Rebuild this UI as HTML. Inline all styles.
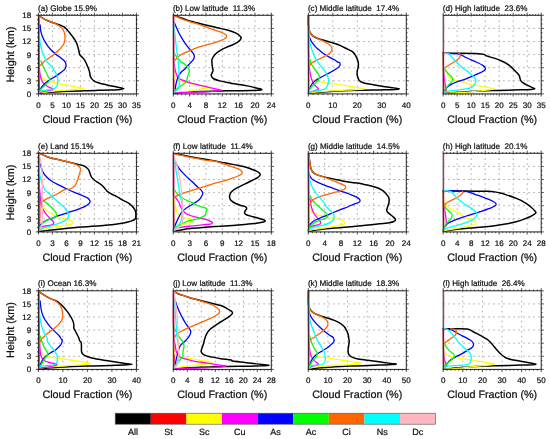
<!DOCTYPE html><html><head><meta charset="utf-8"><style>html,body{margin:0;padding:0;background:#fff;}svg{display:block;}text{text-rendering:geometricPrecision;font-family:"Liberation Sans",Arial,Helvetica,sans-serif;fill:#111;stroke:#111;stroke-width:0.22px;}</style></head><body>
<svg width="550" height="439" viewBox="0 0 550 439">
<rect width="550" height="439" fill="#fff"/>
<path d="M52.4 15.3V93.9M66.4 15.3V93.9M80.4 15.3V93.9M94.4 15.3V93.9M108.4 15.3V93.9M122.4 15.3V93.9M38.4 80.8H136.4M38.4 67.7H136.4M38.4 54.6H136.4M38.4 41.5H136.4M38.4 28.4H136.4" stroke="#8a8a8a" stroke-width="0.7" stroke-dasharray="1.6 3.4" fill="none"/>
<path d="M38.61 15.37C39.36 15.86 41.57 17.44 43.1 18.33C44.64 19.22 46.07 19.91 47.84 20.7C49.62 21.49 51.79 22.38 53.76 23.07C55.74 23.76 57.91 24.15 59.68 24.85C61.46 25.54 63.04 26.23 64.42 27.21C65.8 28.2 66.98 29.68 67.97 30.77C68.96 31.85 69.55 32.74 70.34 33.73C71.13 34.72 71.92 35.61 72.71 36.69C73.5 37.78 74.39 39.06 75.08 40.24C75.77 41.43 76.36 42.61 76.85 43.8C77.35 44.98 77.7 46.17 78.04 47.35C78.37 48.54 78.61 49.82 78.87 50.91C79.12 51.99 79.39 53.17 79.58 53.87C79.77 54.56 79.53 54.47 80 55.07C80.47 55.66 81.58 56.55 82.37 57.44C83.16 58.33 84.05 59.31 84.74 60.4C85.43 61.49 85.92 62.67 86.51 63.95C87.1 65.24 87.8 66.82 88.29 68.1C88.78 69.38 89.18 70.47 89.47 71.65C89.77 72.84 89.77 74.12 90.07 75.21C90.36 76.29 90.56 77.18 91.25 78.17C91.94 79.15 92.93 80.34 94.21 81.13C95.49 81.92 96.97 82.31 98.95 82.91C100.92 83.5 103.68 84.13 106.05 84.68C108.42 85.24 110.79 85.73 113.16 86.22C115.52 86.72 118.48 87.25 120.26 87.64C122.04 88.04 123.81 88.3 123.81 88.59C123.81 88.89 122.63 89.18 120.26 89.42C117.89 89.66 113.35 89.86 109.6 90.01C105.85 90.17 101.51 90.25 97.76 90.37C94.01 90.49 90.07 90.63 87.1 90.72C84.14 90.82 82.85 90.86 80 90.96C77.15 91.06 74.17 91.14 70 91.3C65.83 91.46 59.17 91.7 55 91.9C50.83 92.1 47.7 92.27 45 92.5C42.3 92.73 39.83 93.17 38.8 93.3" stroke="#000000" stroke-width="1.5" fill="none" stroke-linejoin="round" stroke-linecap="round"/>
<path d="M38.6 15.5C38.62 21.25 38.65 40.58 38.7 50C38.75 59.42 38.8 66.17 38.9 72C39 77.83 39.2 81.83 39.3 85C39.4 88.17 39.58 89.62 39.5 91C39.42 92.38 38.92 92.92 38.8 93.3" stroke="#ff0000" stroke-width="1.3" fill="none" stroke-linejoin="round" stroke-linecap="round"/>
<path d="M42 77.82C42.82 78.27 44.27 79.64 46.91 80.54C49.54 81.45 54.18 82.45 57.82 83.27C61.45 84.09 65.09 84.73 68.73 85.45C72.36 86.18 77.09 87.14 79.63 87.63C82.18 88.13 84.91 88.09 84 88.4C83.09 88.71 77.63 89.16 74.18 89.49C70.73 89.82 66.91 90.07 63.27 90.36C59.64 90.65 55.82 90.91 52.36 91.23C48.91 91.56 44.82 91.96 42.55 92.33C40.27 92.69 39.36 93.23 38.73 93.42" stroke="#ffff00" stroke-width="1.3" fill="none" stroke-linejoin="round" stroke-linecap="round"/>
<path d="M38.9 15.5C38.93 21.25 39.03 41.75 39.1 50C39.17 58.25 39.2 61.33 39.3 65C39.4 68.67 39.48 70 39.7 72C39.92 74 40.22 75.5 40.6 77C40.98 78.5 41.49 79.95 42 81C42.51 82.05 42.82 82.44 43.64 83.27C44.45 84.1 45.64 85.18 46.91 86C48.18 86.82 50.18 87.63 51.27 88.18C52.36 88.73 53.64 88.91 53.45 89.27C53.27 89.63 51.82 90 50.18 90.36C48.54 90.73 45.45 91.05 43.64 91.45C41.82 91.85 40 92.54 39.27 92.76" stroke="#ff00ff" stroke-width="1.3" fill="none" stroke-linejoin="round" stroke-linecap="round"/>
<path d="M40.14 24.85C40.24 25.83 40.34 28.79 40.74 30.77C41.13 32.74 41.82 34.91 42.51 36.69C43.2 38.47 43.99 39.85 44.88 41.43C45.77 43.01 46.76 44.69 47.84 46.17C48.93 47.65 50.01 48.93 51.39 50.31C52.78 51.7 54.55 53.18 56.13 54.46C57.71 55.74 59.49 56.93 60.87 58.01C62.25 59.1 63.6 60.06 64.42 60.97C65.24 61.89 65.54 62.69 65.8 63.5C66.06 64.31 66.15 64.89 66 65.82C65.85 66.75 65.73 68 64.91 69.09C64.09 70.18 62.45 71.27 61.09 72.36C59.73 73.45 58.36 74.54 56.73 75.64C55.09 76.73 53 77.82 51.27 78.91C49.54 80 47.82 81 46.36 82.18C44.91 83.36 43.55 84.82 42.55 86C41.55 87.18 40.91 88.27 40.36 89.27C39.82 90.27 39.45 91.54 39.27 92" stroke="#0000ff" stroke-width="1.3" fill="none" stroke-linejoin="round" stroke-linecap="round"/>
<path d="M40.91 60.91C41.18 61.64 41.82 63.64 42.55 65.27C43.27 66.91 44.36 68.91 45.27 70.73C46.18 72.54 47.22 74.69 48 76.18C48.78 77.67 49.87 78.73 49.96 79.67C50.05 80.62 49.33 80.98 48.54 81.85C47.76 82.73 46.27 83.94 45.27 84.91C44.27 85.87 43.36 86.82 42.55 87.63C41.73 88.45 40.91 89.09 40.36 89.82C39.82 90.54 39.45 91.63 39.27 92" stroke="#00ff00" stroke-width="1.3" fill="none" stroke-linejoin="round" stroke-linecap="round"/>
<path d="M38.61 15.37C39.36 15.86 41.57 17.44 43.1 18.33C44.64 19.22 46.07 19.91 47.84 20.7C49.62 21.49 51.99 22.28 53.76 23.07C55.54 23.86 57.12 24.55 58.5 25.44C59.88 26.33 61.1 27.31 62.05 28.4C63 29.49 63.69 30.57 64.18 31.95C64.68 33.33 64.93 35.11 65.01 36.69C65.09 38.27 64.95 40.05 64.66 41.43C64.36 42.81 63.87 43.9 63.24 44.98C62.6 46.07 61.85 46.86 60.87 47.94C59.88 49.03 58.5 50.41 57.31 51.5C56.13 52.58 55.14 53.37 53.76 54.46C52.38 55.55 50.6 56.83 49.03 58.01C47.45 59.2 45.57 60.48 44.29 61.57C43.01 62.65 42.01 63.87 41.33 64.53C40.65 65.18 40.39 65.34 40.2 65.5" stroke="#ff6600" stroke-width="1.3" fill="none" stroke-linejoin="round" stroke-linecap="round"/>
<path d="M38.7 28C38.8 29.05 39.07 31.89 39.32 34.32C39.56 36.76 39.81 40.24 40.14 42.61C40.48 44.98 40.84 46.56 41.33 48.54C41.82 50.51 42.41 52.68 43.1 54.46C43.8 56.24 44.68 57.82 45.47 59.2C46.26 60.58 46.87 61.56 47.84 62.75C48.81 63.95 50.06 64.85 51.27 66.36C52.48 67.87 54.09 70.18 55.09 71.82C56.09 73.45 56.82 74.73 57.27 76.18C57.73 77.64 57.82 79.09 57.82 80.54C57.82 82 57.73 83.64 57.27 84.91C56.82 86.18 56.09 87.42 55.09 88.18C54.09 88.94 53 89.13 51.27 89.49C49.54 89.85 46.55 90.03 44.73 90.36C42.91 90.69 41.36 91 40.36 91.45C39.36 91.91 39 92.82 38.73 93.09" stroke="#00ffff" stroke-width="1.3" fill="none" stroke-linejoin="round" stroke-linecap="round"/>
<path d="M38.4 15.3V93.9" stroke="#ff0000" stroke-width="0.8" opacity="0.0"/>
<path d="M39.4 15.3V93.9" stroke="#c040c0" stroke-width="0.9" opacity="0.6"/>
<path d="M38.4 93.9v2.6M38.4 15.3v-2.6M41.2 93.9v1.3M41.2 15.3v-1.3M44 93.9v1.3M44 15.3v-1.3M46.8 93.9v1.3M46.8 15.3v-1.3M49.6 93.9v1.3M49.6 15.3v-1.3M52.4 93.9v2.6M52.4 15.3v-2.6M55.2 93.9v1.3M55.2 15.3v-1.3M58 93.9v1.3M58 15.3v-1.3M60.8 93.9v1.3M60.8 15.3v-1.3M63.6 93.9v1.3M63.6 15.3v-1.3M66.4 93.9v2.6M66.4 15.3v-2.6M69.2 93.9v1.3M69.2 15.3v-1.3M72 93.9v1.3M72 15.3v-1.3M74.8 93.9v1.3M74.8 15.3v-1.3M77.6 93.9v1.3M77.6 15.3v-1.3M80.4 93.9v2.6M80.4 15.3v-2.6M83.2 93.9v1.3M83.2 15.3v-1.3M86 93.9v1.3M86 15.3v-1.3M88.8 93.9v1.3M88.8 15.3v-1.3M91.6 93.9v1.3M91.6 15.3v-1.3M94.4 93.9v2.6M94.4 15.3v-2.6M97.2 93.9v1.3M97.2 15.3v-1.3M100 93.9v1.3M100 15.3v-1.3M102.8 93.9v1.3M102.8 15.3v-1.3M105.6 93.9v1.3M105.6 15.3v-1.3M108.4 93.9v2.6M108.4 15.3v-2.6M111.2 93.9v1.3M111.2 15.3v-1.3M114 93.9v1.3M114 15.3v-1.3M116.8 93.9v1.3M116.8 15.3v-1.3M119.6 93.9v1.3M119.6 15.3v-1.3M122.4 93.9v2.6M122.4 15.3v-2.6M125.2 93.9v1.3M125.2 15.3v-1.3M128 93.9v1.3M128 15.3v-1.3M130.8 93.9v1.3M130.8 15.3v-1.3M133.6 93.9v1.3M133.6 15.3v-1.3M136.4 93.9v2.6M136.4 15.3v-2.6M38.4 93.9h-2.6M136.4 93.9h2.6M38.4 89.53h-1.3M136.4 89.53h1.3M38.4 85.17h-1.3M136.4 85.17h1.3M38.4 80.8h-2.6M136.4 80.8h2.6M38.4 76.43h-1.3M136.4 76.43h1.3M38.4 72.07h-1.3M136.4 72.07h1.3M38.4 67.7h-2.6M136.4 67.7h2.6M38.4 63.33h-1.3M136.4 63.33h1.3M38.4 58.97h-1.3M136.4 58.97h1.3M38.4 54.6h-2.6M136.4 54.6h2.6M38.4 50.23h-1.3M136.4 50.23h1.3M38.4 45.87h-1.3M136.4 45.87h1.3M38.4 41.5h-2.6M136.4 41.5h2.6M38.4 37.13h-1.3M136.4 37.13h1.3M38.4 32.77h-1.3M136.4 32.77h1.3M38.4 28.4h-2.6M136.4 28.4h2.6M38.4 24.03h-1.3M136.4 24.03h1.3M38.4 19.67h-1.3M136.4 19.67h1.3M38.4 15.3h-2.6M136.4 15.3h2.6" stroke="#222" stroke-width="0.8" fill="none"/>
<rect x="38.4" y="15.3" width="98" height="78.6" fill="none" stroke="#222" stroke-width="1"/>
<text x="38.4" y="107.7" font-size="8" text-anchor="middle">0</text>
<text x="52.4" y="107.7" font-size="8" text-anchor="middle">5</text>
<text x="66.4" y="107.7" font-size="8" text-anchor="middle">10</text>
<text x="80.4" y="107.7" font-size="8" text-anchor="middle">15</text>
<text x="94.4" y="107.7" font-size="8" text-anchor="middle">20</text>
<text x="108.4" y="107.7" font-size="8" text-anchor="middle">25</text>
<text x="122.4" y="107.7" font-size="8" text-anchor="middle">30</text>
<text x="136.4" y="107.7" font-size="8" text-anchor="middle">35</text>
<text x="31.1" y="96.8" font-size="8" text-anchor="end">0</text>
<text x="31.1" y="83.7" font-size="8" text-anchor="end">3</text>
<text x="31.1" y="70.6" font-size="8" text-anchor="end">6</text>
<text x="31.1" y="57.5" font-size="8" text-anchor="end">9</text>
<text x="31.1" y="44.4" font-size="8" text-anchor="end">12</text>
<text x="31.1" y="31.3" font-size="8" text-anchor="end">15</text>
<text x="31.1" y="18.2" font-size="8" text-anchor="end">18</text>
<text x="38" y="10.8" font-size="8.1" xml:space="preserve">(a) Globe 15.9%</text>
<text x="87.4" y="122.5" font-size="10.8" text-anchor="middle">Cloud Fraction (%)</text>
<text transform="translate(13.7 54.6) rotate(-90)" x="0" y="0" font-size="10.8" text-anchor="middle">Height (km)</text>
<path d="M189.63 15.3V93.9M205.97 15.3V93.9M222.3 15.3V93.9M238.63 15.3V93.9M254.97 15.3V93.9M173.3 80.8H271.3M173.3 67.7H271.3M173.3 54.6H271.3M173.3 41.5H271.3M173.3 28.4H271.3" stroke="#8a8a8a" stroke-width="0.7" stroke-dasharray="1.6 3.4" fill="none"/>
<path d="M173.7 15.3C175.98 16.1 182.77 18.67 187.4 20.1C192.03 21.53 197.32 22.82 201.5 23.9C205.68 24.98 209.5 25.88 212.5 26.6C215.5 27.32 217.2 27.67 219.5 28.2C221.8 28.73 223.98 29.17 226.3 29.8C228.62 30.43 231.44 31.2 233.42 31.95C235.4 32.71 236.97 33.53 238.16 34.32C239.34 35.11 240.03 36.1 240.52 36.69C241.02 37.28 241.21 37.28 241.12 37.88C241.02 38.47 240.62 39.46 239.93 40.24C239.24 41.03 238.25 41.82 236.97 42.61C235.69 43.4 234.01 44.19 232.24 44.98C230.46 45.77 228.29 46.46 226.31 47.35C224.34 48.24 222.07 49.33 220.39 50.31C218.72 51.3 217.43 52.19 216.25 53.27C215.07 54.36 214.02 55.64 213.29 56.83C212.56 58.02 211.99 58.62 211.85 60.4C211.71 62.18 212.25 65.83 212.44 67.51C212.64 69.18 213.14 69.48 213.04 70.47C212.94 71.46 212.15 72.54 211.85 73.43C211.56 74.32 210.96 74.91 211.26 75.8C211.56 76.69 212.05 77.87 213.63 78.76C215.21 79.65 217.97 80.44 220.73 81.13C223.5 81.82 228.6 82.57 230.21 82.91C231.82 83.24 228.98 82.89 230.39 83.14C231.81 83.4 235.92 83.99 238.68 84.45C241.45 84.9 244.41 85.37 246.97 85.87C249.54 86.36 251.91 86.91 254.08 87.41C256.25 87.9 258.71 88.43 260 88.83C261.28 89.22 261.97 89.54 261.77 89.78C261.58 90.01 260.69 90.13 258.81 90.25C256.94 90.37 253.88 90.41 250.52 90.49C247.17 90.57 242.63 90.66 238.68 90.72C234.74 90.78 229.8 90.8 226.84 90.84C223.88 90.88 224.56 90.87 220.92 90.96C217.28 91.05 210.15 91.23 205 91.4C199.85 91.57 194.17 91.8 190 92C185.83 92.2 182.7 92.37 180 92.6C177.3 92.83 174.83 93.27 173.8 93.4" stroke="#000000" stroke-width="1.5" fill="none" stroke-linejoin="round" stroke-linecap="round"/>
<path d="M173.5 15.5C173.52 22.92 173.53 47.58 173.6 60C173.67 72.42 173.9 84.45 173.9 90C173.9 95.55 173.65 92.75 173.6 93.3" stroke="#ff0000" stroke-width="1.3" fill="none" stroke-linejoin="round" stroke-linecap="round"/>
<path d="M173.25 59.21C173.37 61.98 173.55 72.44 173.96 75.8C174.37 79.15 174.45 78.36 175.74 79.35C177.02 80.34 179.29 81.03 181.66 81.72C184.03 82.41 186.79 82.81 189.95 83.5C193.1 84.19 197.25 85.22 200.6 85.87C203.96 86.52 210.08 86.87 210.08 87.41C210.08 87.94 203.56 88.53 200.6 89.07C197.64 89.6 195.27 90.15 192.31 90.61C189.35 91.06 185.8 91.45 182.84 91.79C179.88 92.13 175.93 92.48 174.55 92.62" stroke="#ffff00" stroke-width="1.3" fill="none" stroke-linejoin="round" stroke-linecap="round"/>
<path d="M173.6 15.5C173.62 19.58 173.68 34.25 173.7 40C173.72 45.75 173.65 46.2 173.7 50C173.75 53.8 173.67 59.1 174 62.8C174.33 66.5 175.02 69.73 175.7 72.2C176.38 74.67 177.1 76.32 178.1 77.6C179.1 78.88 179.92 79.12 181.7 79.9C183.48 80.68 185.65 81.4 188.8 82.3C191.95 83.2 196.67 84.32 200.6 85.3C204.53 86.28 209.15 87.45 212.4 88.2C215.65 88.95 218.72 89.4 220.1 89.8C221.48 90.2 222.97 90.27 220.7 90.6C218.43 90.93 210.83 91.55 206.5 91.8C202.17 92.05 198.65 91.97 194.7 92.1C190.75 92.23 186.15 92.45 182.8 92.6C179.45 92.75 175.97 92.93 174.6 93" stroke="#ff00ff" stroke-width="1.3" fill="none" stroke-linejoin="round" stroke-linecap="round"/>
<path d="M174.55 23.07C174.85 23.76 175.64 25.64 176.33 27.21C177.02 28.79 177.81 30.77 178.7 32.55C179.58 34.32 180.67 36.2 181.66 37.88C182.64 39.55 183.53 41.03 184.62 42.61C185.7 44.19 186.99 45.87 188.17 47.35C189.35 48.83 190.74 50.21 191.72 51.5C192.71 52.78 193.7 53.97 194.09 55.05C194.49 56.14 194.39 57.03 194.09 58.01C193.79 59 193.01 60.09 192.31 60.97C191.62 61.86 191.13 62.06 189.95 63.34C188.76 64.63 186.69 67.21 185.21 68.69C183.73 70.17 182.15 71.06 181.07 72.24C179.98 73.43 179.39 74.42 178.7 75.8C178.01 77.18 177.41 78.96 176.92 80.54C176.43 82.12 176.03 83.7 175.74 85.27C175.44 86.85 175.44 88.73 175.14 90.01C174.85 91.3 174.16 92.48 173.96 92.97" stroke="#0000ff" stroke-width="1.3" fill="none" stroke-linejoin="round" stroke-linecap="round"/>
<path d="M173.96 52.09C174.26 52.68 174.95 54.46 175.74 55.64C176.53 56.83 177.71 58.01 178.7 59.2C179.68 60.38 180.97 62.16 181.66 62.75C182.35 63.35 181.85 62.07 182.84 62.77C183.83 63.46 186.49 65.63 187.58 66.91C188.66 68.2 189.16 69.38 189.35 70.47C189.55 71.55 189.06 72.44 188.76 73.43C188.47 74.42 187.87 75.4 187.58 76.39C187.28 77.38 187.38 78.27 186.99 79.35C186.59 80.44 186.1 81.92 185.21 82.91C184.32 83.89 182.84 84.49 181.66 85.27C180.47 86.06 179.19 86.76 178.1 87.64C177.02 88.53 175.89 89.82 175.14 90.61C174.39 91.4 173.86 92.09 173.61 92.38" stroke="#00ff00" stroke-width="1.3" fill="none" stroke-linejoin="round" stroke-linecap="round"/>
<path d="M173.61 15.37C174.75 15.86 177.95 17.34 180.47 18.33C183 19.32 185.8 20.3 188.76 21.29C191.72 22.28 195.27 23.27 198.24 24.25C201.2 25.24 203.76 26.23 206.52 27.21C209.29 28.2 212.25 29.29 214.81 30.18C217.38 31.06 220.04 31.76 221.92 32.55C223.79 33.33 225.27 34.22 226.06 34.91C226.85 35.61 226.95 36 226.65 36.69C226.36 37.38 225.67 38.27 224.29 39.06C222.9 39.85 220.73 40.64 218.37 41.43C216 42.22 212.84 43.01 210.08 43.8C207.31 44.59 204.55 45.28 201.79 46.17C199.02 47.06 196.06 48.14 193.5 49.13C190.93 50.12 188.56 51.1 186.39 52.09C184.22 53.08 182.05 54.06 180.47 55.05C178.89 56.04 177.81 57.12 176.92 58.01C176.03 58.9 175.44 59.99 175.14 60.38" stroke="#ff6600" stroke-width="1.3" fill="none" stroke-linejoin="round" stroke-linecap="round"/>
<path d="M173.96 23.66C174.06 24.85 174.3 28.2 174.55 30.77C174.81 33.33 175.2 36.3 175.5 39.06C175.8 41.82 175.99 44.59 176.33 47.35C176.66 50.12 177.18 53.08 177.51 55.64C177.85 58.21 178.09 59.59 178.34 62.75C178.6 65.91 178.89 71.06 179.05 74.61C179.21 78.17 179.45 81.72 179.29 84.09C179.13 86.46 178.89 87.6 178.1 88.83C177.32 90.05 175.34 90.74 174.55 91.43C173.76 92.13 173.57 92.72 173.37 92.97" stroke="#00ffff" stroke-width="1.3" fill="none" stroke-linejoin="round" stroke-linecap="round"/>
<path d="M173.3 15.3V93.9" stroke="#ff0000" stroke-width="0.8" opacity="0.0"/>
<path d="M174.3 15.3V93.9" stroke="#e090a0" stroke-width="0.9" opacity="0.6"/>
<path d="M173.3 93.9v2.6M173.3 15.3v-2.6M177.38 93.9v1.3M177.38 15.3v-1.3M181.47 93.9v1.3M181.47 15.3v-1.3M185.55 93.9v1.3M185.55 15.3v-1.3M189.63 93.9v2.6M189.63 15.3v-2.6M193.72 93.9v1.3M193.72 15.3v-1.3M197.8 93.9v1.3M197.8 15.3v-1.3M201.88 93.9v1.3M201.88 15.3v-1.3M205.97 93.9v2.6M205.97 15.3v-2.6M210.05 93.9v1.3M210.05 15.3v-1.3M214.13 93.9v1.3M214.13 15.3v-1.3M218.22 93.9v1.3M218.22 15.3v-1.3M222.3 93.9v2.6M222.3 15.3v-2.6M226.38 93.9v1.3M226.38 15.3v-1.3M230.47 93.9v1.3M230.47 15.3v-1.3M234.55 93.9v1.3M234.55 15.3v-1.3M238.63 93.9v2.6M238.63 15.3v-2.6M242.72 93.9v1.3M242.72 15.3v-1.3M246.8 93.9v1.3M246.8 15.3v-1.3M250.88 93.9v1.3M250.88 15.3v-1.3M254.97 93.9v2.6M254.97 15.3v-2.6M259.05 93.9v1.3M259.05 15.3v-1.3M263.13 93.9v1.3M263.13 15.3v-1.3M267.22 93.9v1.3M267.22 15.3v-1.3M271.3 93.9v2.6M271.3 15.3v-2.6M271.3 93.9h2.6M271.3 89.53h1.3M271.3 85.17h1.3M271.3 80.8h2.6M271.3 76.43h1.3M271.3 72.07h1.3M271.3 67.7h2.6M271.3 63.33h1.3M271.3 58.97h1.3M271.3 54.6h2.6M271.3 50.23h1.3M271.3 45.87h1.3M271.3 41.5h2.6M271.3 37.13h1.3M271.3 32.77h1.3M271.3 28.4h2.6M271.3 24.03h1.3M271.3 19.67h1.3M271.3 15.3h2.6" stroke="#222" stroke-width="0.8" fill="none"/>
<rect x="173.3" y="15.3" width="98" height="78.6" fill="none" stroke="#222" stroke-width="1"/>
<text x="173.3" y="107.7" font-size="8" text-anchor="middle">0</text>
<text x="189.63" y="107.7" font-size="8" text-anchor="middle">4</text>
<text x="205.97" y="107.7" font-size="8" text-anchor="middle">8</text>
<text x="222.3" y="107.7" font-size="8" text-anchor="middle">12</text>
<text x="238.63" y="107.7" font-size="8" text-anchor="middle">16</text>
<text x="254.97" y="107.7" font-size="8" text-anchor="middle">20</text>
<text x="271.3" y="107.7" font-size="8" text-anchor="middle">24</text>
<text x="172.9" y="10.8" font-size="8.1" xml:space="preserve">(b) Low latitude  11.3%</text>
<text x="222.3" y="122.5" font-size="10.8" text-anchor="middle">Cloud Fraction (%)</text>
<path d="M332.8 15.3V93.9M357.3 15.3V93.9M381.8 15.3V93.9M308.3 80.8H406.3M308.3 67.7H406.3M308.3 54.6H406.3M308.3 41.5H406.3M308.3 28.4H406.3" stroke="#8a8a8a" stroke-width="0.7" stroke-dasharray="1.6 3.4" fill="none"/>
<path d="M308.5 15.5C308.48 16.66 308.29 20.33 308.37 22.48C308.44 24.63 308.66 26.72 308.96 28.4C309.26 30.08 309.45 31.26 310.14 32.55C310.84 33.83 311.82 35.11 313.1 36.1C314.39 37.09 316.07 37.78 317.84 38.47C319.62 39.16 321.79 39.65 323.76 40.24C325.74 40.84 327.71 41.43 329.68 42.02C331.66 42.61 333.63 43.11 335.6 43.8C337.58 44.49 339.75 45.38 341.52 46.17C343.3 46.96 344.85 47.84 346.26 48.54C347.67 49.23 348.88 49.74 350 50.33C351.12 50.93 352.07 51.32 352.96 52.11C353.85 52.9 354.64 53.98 355.33 55.07C356.02 56.15 356.61 57.34 357.1 58.62C357.6 59.91 358.09 61.39 358.29 62.77C358.49 64.15 358.45 65.63 358.29 66.91C358.13 68.2 357.54 69.28 357.34 70.47C357.14 71.65 357.05 72.94 357.1 74.02C357.16 75.11 357.4 76 357.7 76.98C357.99 77.97 358.19 79.06 358.88 79.94C359.57 80.83 360.36 81.66 361.84 82.31C363.32 82.96 365.39 83.36 367.76 83.85C370.13 84.35 373.09 84.8 376.05 85.27C379.01 85.75 382.56 86.26 385.52 86.7C388.48 87.13 391.54 87.53 393.81 87.88C396.08 88.24 398.94 88.57 399.14 88.83C399.34 89.09 397.27 89.26 395 89.42C392.73 89.58 389.08 89.68 385.52 89.78C381.97 89.87 377.63 89.93 373.68 90.01C369.74 90.09 365.79 90.17 361.84 90.25C357.89 90.33 354.47 90.33 350 90.49C345.53 90.65 340 90.91 335 91.2C330 91.49 324.4 91.85 320 92.2C315.6 92.55 310.5 93.12 308.6 93.3" stroke="#000000" stroke-width="1.5" fill="none" stroke-linejoin="round" stroke-linecap="round"/>
<path d="M308.5 15.5C308.52 22.92 308.55 47.58 308.6 60C308.65 72.42 308.8 84.45 308.8 90C308.8 95.55 308.63 92.75 308.6 93.3" stroke="#ff0000" stroke-width="1.3" fill="none" stroke-linejoin="round" stroke-linecap="round"/>
<path d="M311.33 79.35C312.02 79.55 313.4 80.04 315.47 80.54C317.55 81.03 320.41 81.72 323.76 82.31C327.12 82.91 331.66 83.5 335.6 84.09C339.55 84.68 343.69 85.27 347.44 85.87C351.19 86.46 355.34 87.15 358.1 87.64C360.86 88.14 364.81 88.47 364.02 88.83C363.23 89.18 357.12 89.52 353.37 89.78C349.62 90.03 345.47 90.17 341.52 90.37C337.58 90.57 333.63 90.72 329.68 90.96C325.74 91.2 321.2 91.45 317.84 91.79C314.49 92.13 310.93 92.78 309.55 92.97" stroke="#ffff00" stroke-width="1.3" fill="none" stroke-linejoin="round" stroke-linecap="round"/>
<path d="M308.5 15.5C308.52 22.08 308.42 46.13 308.6 55C308.78 63.87 309.29 65.62 309.55 68.69C309.81 71.76 309.85 71.85 310.14 73.43C310.44 75.01 310.84 76.59 311.33 78.17C311.82 79.75 312.41 81.62 313.1 82.91C313.8 84.19 314.58 84.88 315.47 85.87C316.36 86.85 318.43 88.04 318.43 88.83C318.43 89.62 316.76 90.11 315.47 90.61C314.19 91.1 311.92 91.4 310.74 91.79C309.55 92.18 308.76 92.78 308.37 92.97" stroke="#ff00ff" stroke-width="1.3" fill="none" stroke-linejoin="round" stroke-linecap="round"/>
<path d="M308.96 35.51C309.16 36.1 309.55 37.78 310.14 39.06C310.74 40.34 311.53 41.82 312.51 43.21C313.5 44.59 314.78 46.07 316.07 47.35C317.35 48.64 318.73 49.72 320.21 50.91C321.69 52.09 323.37 53.37 324.95 54.46C326.52 55.55 328.1 56.53 329.68 57.42C331.26 58.31 333.04 59 334.42 59.79C335.8 60.58 337.08 61.66 337.97 62.16C338.86 62.66 339.45 62.17 339.75 62.77C340.04 63.36 340.44 64.64 339.75 65.73C339.06 66.82 337.48 68 335.6 69.28C333.73 70.57 330.87 72.15 328.5 73.43C326.13 74.71 323.56 75.8 321.39 76.98C319.22 78.17 317.05 79.35 315.47 80.54C313.89 81.72 312.81 82.91 311.92 84.09C311.03 85.27 310.64 86.56 310.14 87.64C309.65 88.73 309.26 89.72 308.96 90.61C308.66 91.49 308.47 92.58 308.37 92.97" stroke="#0000ff" stroke-width="1.3" fill="none" stroke-linejoin="round" stroke-linecap="round"/>
<path d="M310.14 59.81C310.34 60.5 310.64 62.47 311.33 63.95C312.02 65.43 313.2 67.11 314.29 68.69C315.37 70.27 316.95 72.05 317.84 73.43C318.73 74.81 319.52 75.9 319.62 76.98C319.72 78.07 319.12 78.96 318.43 79.94C317.74 80.93 316.46 81.92 315.47 82.91C314.49 83.89 313.4 84.88 312.51 85.87C311.62 86.85 310.74 87.94 310.14 88.83C309.55 89.72 309.26 90.51 308.96 91.2C308.66 91.89 308.47 92.68 308.37 92.97" stroke="#00ff00" stroke-width="1.3" fill="none" stroke-linejoin="round" stroke-linecap="round"/>
<path d="M308.5 15.5C308.48 16.66 308.29 20.33 308.37 22.48C308.44 24.63 308.66 26.72 308.96 28.4C309.26 30.08 309.45 31.26 310.14 32.55C310.84 33.83 311.82 35.11 313.1 36.1C314.39 37.09 316.26 37.68 317.84 38.47C319.42 39.26 321 40.05 322.58 40.84C324.16 41.63 325.93 42.32 327.31 43.21C328.7 44.09 330.08 45.28 330.87 46.17C331.66 47.06 332.05 47.55 332.05 48.54C332.05 49.52 331.66 51 330.87 52.09C330.08 53.18 328.7 54.16 327.31 55.05C325.93 55.94 324.16 56.63 322.58 57.42C321 58.21 319.42 59 317.84 59.79C316.26 60.58 314.29 61.47 313.1 62.16C311.92 62.85 311.34 63.3 310.74 63.94C310.14 64.58 309.71 65.66 309.5 66" stroke="#ff6600" stroke-width="1.3" fill="none" stroke-linejoin="round" stroke-linecap="round"/>
<path d="M308.6 30C308.66 31.31 308.7 35.58 308.96 37.88C309.22 40.18 309.65 41.82 310.14 43.8C310.64 45.77 311.23 47.75 311.92 49.72C312.61 51.7 313.5 53.87 314.29 55.64C315.08 57.42 315.87 59 316.66 60.38C317.45 61.76 317.64 62.16 319.03 63.94C320.41 65.72 323.47 68.89 324.95 71.06C326.43 73.23 327.31 75.21 327.91 76.98C328.5 78.76 328.6 80.24 328.5 81.72C328.4 83.2 327.91 84.68 327.31 85.87C326.72 87.05 326.52 88.04 324.95 88.83C323.37 89.62 320.21 90.11 317.84 90.61C315.47 91.1 312.32 91.4 310.74 91.79C309.16 92.18 308.76 92.78 308.37 92.97" stroke="#00ffff" stroke-width="1.3" fill="none" stroke-linejoin="round" stroke-linecap="round"/>
<path d="M308.3 15.3V93.9" stroke="#ff0000" stroke-width="0.8" opacity="0.0"/>
<path d="M309.3 15.3V93.9" stroke="#e090a0" stroke-width="0.9" opacity="0.6"/>
<path d="M308.3 93.9v2.6M308.3 15.3v-2.6M313.2 93.9v1.3M313.2 15.3v-1.3M318.1 93.9v1.3M318.1 15.3v-1.3M323 93.9v1.3M323 15.3v-1.3M327.9 93.9v1.3M327.9 15.3v-1.3M332.8 93.9v2.6M332.8 15.3v-2.6M337.7 93.9v1.3M337.7 15.3v-1.3M342.6 93.9v1.3M342.6 15.3v-1.3M347.5 93.9v1.3M347.5 15.3v-1.3M352.4 93.9v1.3M352.4 15.3v-1.3M357.3 93.9v2.6M357.3 15.3v-2.6M362.2 93.9v1.3M362.2 15.3v-1.3M367.1 93.9v1.3M367.1 15.3v-1.3M372 93.9v1.3M372 15.3v-1.3M376.9 93.9v1.3M376.9 15.3v-1.3M381.8 93.9v2.6M381.8 15.3v-2.6M386.7 93.9v1.3M386.7 15.3v-1.3M391.6 93.9v1.3M391.6 15.3v-1.3M396.5 93.9v1.3M396.5 15.3v-1.3M401.4 93.9v1.3M401.4 15.3v-1.3M406.3 93.9v2.6M406.3 15.3v-2.6M406.3 93.9h2.6M406.3 89.53h1.3M406.3 85.17h1.3M406.3 80.8h2.6M406.3 76.43h1.3M406.3 72.07h1.3M406.3 67.7h2.6M406.3 63.33h1.3M406.3 58.97h1.3M406.3 54.6h2.6M406.3 50.23h1.3M406.3 45.87h1.3M406.3 41.5h2.6M406.3 37.13h1.3M406.3 32.77h1.3M406.3 28.4h2.6M406.3 24.03h1.3M406.3 19.67h1.3M406.3 15.3h2.6" stroke="#222" stroke-width="0.8" fill="none"/>
<rect x="308.3" y="15.3" width="98" height="78.6" fill="none" stroke="#222" stroke-width="1"/>
<text x="308.3" y="107.7" font-size="8" text-anchor="middle">0</text>
<text x="332.8" y="107.7" font-size="8" text-anchor="middle">10</text>
<text x="357.3" y="107.7" font-size="8" text-anchor="middle">20</text>
<text x="381.8" y="107.7" font-size="8" text-anchor="middle">30</text>
<text x="406.3" y="107.7" font-size="8" text-anchor="middle">40</text>
<text x="307.9" y="10.8" font-size="8.1" xml:space="preserve">(c) Middle latitude  17.4%</text>
<text x="357.3" y="122.5" font-size="10.8" text-anchor="middle">Cloud Fraction (%)</text>
<path d="M457.2 15.3V93.9M471.2 15.3V93.9M485.2 15.3V93.9M499.2 15.3V93.9M513.2 15.3V93.9M527.2 15.3V93.9M443.2 80.8H541.2M443.2 67.7H541.2M443.2 54.6H541.2M443.2 41.5H541.2M443.2 28.4H541.2" stroke="#8a8a8a" stroke-width="0.7" stroke-dasharray="1.6 3.4" fill="none"/>
<path d="M443.25 53.29C445.84 53.29 452.43 53.19 458.76 53.29C465.1 53.39 476.72 53.49 481.26 53.88C485.8 54.28 484.58 55.17 486 55.66C487.41 56.15 488.13 56.35 489.74 56.85C491.35 57.34 493.68 57.93 495.66 58.62C497.63 59.31 499.8 60.2 501.58 60.99C503.35 61.78 504.83 62.47 506.31 63.36C507.79 64.25 509.18 65.24 510.46 66.32C511.74 67.41 512.93 68.79 514.01 69.88C515.1 70.96 516.08 71.85 516.97 72.84C517.86 73.82 518.85 74.91 519.34 75.8C519.83 76.69 519.64 77.28 519.93 78.17C520.23 79.06 520.43 80.24 521.12 81.13C521.81 82.02 522.79 82.71 524.08 83.5C525.36 84.29 527.43 85.18 528.81 85.87C530.19 86.56 531.38 87.15 532.37 87.64C533.35 88.14 534.93 88.53 534.73 88.83C534.54 89.12 533.55 89.26 531.18 89.42C528.81 89.58 524.27 89.66 520.52 89.78C516.77 89.89 512.63 90.01 508.68 90.13C504.74 90.25 500.79 90.37 496.84 90.49C492.89 90.61 489.47 90.66 485 90.84C480.53 91.03 475 91.32 470 91.6C465 91.88 459.42 92.22 455 92.5C450.58 92.78 445.42 93.17 443.5 93.3" stroke="#000000" stroke-width="1.5" fill="none" stroke-linejoin="round" stroke-linecap="round"/>
<path d="M443.25 52.11C443.27 54.87 443.31 62.37 443.37 68.69C443.43 75.01 443.61 85.97 443.61 90.01C443.61 94.06 443.41 92.48 443.37 92.97" stroke="#ff0000" stroke-width="1.3" fill="none" stroke-linejoin="round" stroke-linecap="round"/>
<path d="M444.55 68.1C444.85 68.79 445.54 70.76 446.33 72.24C447.12 73.73 448.01 75.7 449.29 76.98C450.57 78.27 452.05 79.15 454.03 79.94C456 80.73 458.37 81.03 461.13 81.72C463.89 82.41 467.25 83.3 470.6 84.09C473.96 84.88 477.71 85.77 481.26 86.46C484.81 87.15 489.94 87.8 491.92 88.24C493.89 88.67 494.68 88.67 493.1 89.07C491.52 89.46 486.19 90.15 482.44 90.61C478.69 91.06 474.55 91.45 470.6 91.79C466.66 92.13 462.51 92.4 458.76 92.62C455.01 92.84 450.63 92.97 448.1 93.09C445.58 93.21 444.36 93.29 443.61 93.33" stroke="#ffff00" stroke-width="1.3" fill="none" stroke-linejoin="round" stroke-linecap="round"/>
<path d="M443.37 68.69C443.47 69.68 443.76 72.64 443.96 74.61C444.16 76.59 444.3 78.56 444.55 80.54C444.81 82.51 445.2 84.88 445.5 86.46C445.8 88.04 446.49 89.12 446.33 90.01C446.17 90.9 445.05 91.3 444.55 91.79C444.06 92.28 443.57 92.78 443.37 92.97" stroke="#ff00ff" stroke-width="1.3" fill="none" stroke-linejoin="round" stroke-linecap="round"/>
<path d="M443.37 53.29C444.95 53.33 450.08 53.33 452.84 53.53C455.6 53.73 457.58 53.73 459.95 54.48C462.31 55.23 464.49 56.85 467.05 58.03C469.62 59.21 472.77 60.4 475.34 61.58C477.91 62.77 480.77 64.05 482.44 65.14C484.12 66.22 485.11 67.21 485.4 68.1C485.7 68.99 485.31 69.58 484.22 70.47C483.14 71.36 480.96 72.44 478.89 73.43C476.82 74.42 474.16 75.4 471.79 76.39C469.42 77.38 467.05 78.46 464.68 79.35C462.31 80.24 459.75 80.93 457.58 81.72C455.41 82.51 453.24 83.3 451.66 84.09C450.08 84.88 449.09 85.67 448.1 86.46C447.12 87.25 446.43 87.94 445.74 88.83C445.05 89.72 444.36 91.1 443.96 91.79C443.57 92.48 443.47 92.78 443.37 92.97" stroke="#0000ff" stroke-width="1.3" fill="none" stroke-linejoin="round" stroke-linecap="round"/>
<path d="M443.84 67.51C444.06 67.9 444.43 68.89 445.14 69.88C445.85 70.86 447.02 72.24 448.1 73.43C449.19 74.61 450.87 76 451.66 76.98C452.45 77.97 452.84 78.56 452.84 79.35C452.84 80.14 452.25 80.93 451.66 81.72C451.07 82.51 450.08 83.2 449.29 84.09C448.5 84.98 447.61 86.06 446.92 87.05C446.23 88.04 445.7 89.12 445.14 90.01C444.59 90.9 443.86 91.99 443.61 92.38" stroke="#00ff00" stroke-width="1.3" fill="none" stroke-linejoin="round" stroke-linecap="round"/>
<path d="M458.76 53.53C458.96 53.59 459.75 53.33 459.95 53.88C460.14 54.44 460.34 55.86 459.95 56.85C459.55 57.83 458.76 58.82 457.58 59.81C456.39 60.79 454.42 61.78 452.84 62.77C451.26 63.76 449.39 64.94 448.1 65.73C446.82 66.52 445.64 67.21 445.14 67.51" stroke="#ff6600" stroke-width="1.3" fill="none" stroke-linejoin="round" stroke-linecap="round"/>
<path d="M443.37 53.29C444.36 53.39 447.91 53.29 449.29 53.88C450.67 54.48 450.47 55.46 451.66 56.85C452.84 58.23 454.62 60.4 456.39 62.18C458.17 63.95 460.14 65.73 462.31 67.51C464.49 69.28 467.45 71.26 469.42 72.84C471.39 74.42 473.07 75.7 474.16 76.98C475.24 78.27 475.83 79.35 475.93 80.54C476.03 81.72 475.54 82.91 474.75 84.09C473.96 85.27 473.27 86.76 471.2 87.64C469.12 88.53 465.37 88.93 462.31 89.42C459.26 89.91 455.6 90.21 452.84 90.61C450.08 91 447.32 91.4 445.74 91.79C444.16 92.18 443.76 92.78 443.37 92.97" stroke="#00ffff" stroke-width="1.3" fill="none" stroke-linejoin="round" stroke-linecap="round"/>
<path d="M443.2 15.3V93.9" stroke="#ff0000" stroke-width="0.8" opacity="0.0"/>
<path d="M444.2 15.3V93.9" stroke="#e090a0" stroke-width="0.9" opacity="0.6"/>
<path d="M443.2 93.9v2.6M443.2 15.3v-2.6M446 93.9v1.3M446 15.3v-1.3M448.8 93.9v1.3M448.8 15.3v-1.3M451.6 93.9v1.3M451.6 15.3v-1.3M454.4 93.9v1.3M454.4 15.3v-1.3M457.2 93.9v2.6M457.2 15.3v-2.6M460 93.9v1.3M460 15.3v-1.3M462.8 93.9v1.3M462.8 15.3v-1.3M465.6 93.9v1.3M465.6 15.3v-1.3M468.4 93.9v1.3M468.4 15.3v-1.3M471.2 93.9v2.6M471.2 15.3v-2.6M474 93.9v1.3M474 15.3v-1.3M476.8 93.9v1.3M476.8 15.3v-1.3M479.6 93.9v1.3M479.6 15.3v-1.3M482.4 93.9v1.3M482.4 15.3v-1.3M485.2 93.9v2.6M485.2 15.3v-2.6M488 93.9v1.3M488 15.3v-1.3M490.8 93.9v1.3M490.8 15.3v-1.3M493.6 93.9v1.3M493.6 15.3v-1.3M496.4 93.9v1.3M496.4 15.3v-1.3M499.2 93.9v2.6M499.2 15.3v-2.6M502 93.9v1.3M502 15.3v-1.3M504.8 93.9v1.3M504.8 15.3v-1.3M507.6 93.9v1.3M507.6 15.3v-1.3M510.4 93.9v1.3M510.4 15.3v-1.3M513.2 93.9v2.6M513.2 15.3v-2.6M516 93.9v1.3M516 15.3v-1.3M518.8 93.9v1.3M518.8 15.3v-1.3M521.6 93.9v1.3M521.6 15.3v-1.3M524.4 93.9v1.3M524.4 15.3v-1.3M527.2 93.9v2.6M527.2 15.3v-2.6M530 93.9v1.3M530 15.3v-1.3M532.8 93.9v1.3M532.8 15.3v-1.3M535.6 93.9v1.3M535.6 15.3v-1.3M538.4 93.9v1.3M538.4 15.3v-1.3M541.2 93.9v2.6M541.2 15.3v-2.6M541.2 93.9h2.6M541.2 89.53h1.3M541.2 85.17h1.3M541.2 80.8h2.6M541.2 76.43h1.3M541.2 72.07h1.3M541.2 67.7h2.6M541.2 63.33h1.3M541.2 58.97h1.3M541.2 54.6h2.6M541.2 50.23h1.3M541.2 45.87h1.3M541.2 41.5h2.6M541.2 37.13h1.3M541.2 32.77h1.3M541.2 28.4h2.6M541.2 24.03h1.3M541.2 19.67h1.3M541.2 15.3h2.6" stroke="#222" stroke-width="0.8" fill="none"/>
<rect x="443.2" y="15.3" width="98" height="78.6" fill="none" stroke="#222" stroke-width="1"/>
<text x="443.2" y="107.7" font-size="8" text-anchor="middle">0</text>
<text x="457.2" y="107.7" font-size="8" text-anchor="middle">5</text>
<text x="471.2" y="107.7" font-size="8" text-anchor="middle">10</text>
<text x="485.2" y="107.7" font-size="8" text-anchor="middle">15</text>
<text x="499.2" y="107.7" font-size="8" text-anchor="middle">20</text>
<text x="513.2" y="107.7" font-size="8" text-anchor="middle">25</text>
<text x="527.2" y="107.7" font-size="8" text-anchor="middle">30</text>
<text x="541.2" y="107.7" font-size="8" text-anchor="middle">35</text>
<text x="442.8" y="10.8" font-size="8.1" xml:space="preserve">(d) High latitude  23.6%</text>
<text x="492.2" y="122.5" font-size="10.8" text-anchor="middle">Cloud Fraction (%)</text>
<path d="M52.4 153.3V231.9M66.4 153.3V231.9M80.4 153.3V231.9M94.4 153.3V231.9M108.4 153.3V231.9M122.4 153.3V231.9M38.4 218.8H136.4M38.4 205.7H136.4M38.4 192.6H136.4M38.4 179.5H136.4M38.4 166.4H136.4" stroke="#8a8a8a" stroke-width="0.7" stroke-dasharray="1.6 3.4" fill="none"/>
<path d="M38.37 152.78C39.95 153.47 44.29 155.74 47.84 156.92C51.39 158.11 55.74 158.9 59.68 159.88C63.63 160.87 68.37 162.06 71.52 162.85C74.68 163.64 76.62 164.13 78.63 164.62C80.63 165.12 82.24 165.31 83.55 165.81C84.87 166.3 85.72 166.99 86.51 167.58C87.3 168.18 87.84 168.77 88.29 169.36C88.74 169.95 88.94 170.45 89.24 171.14C89.53 171.83 89.79 172.72 90.07 173.51C90.34 174.3 90.6 175.18 90.89 175.88C91.19 176.57 91.29 176.96 91.84 177.65C92.39 178.34 93.22 179.23 94.21 180.02C95.2 180.81 96.58 181.6 97.76 182.39C98.95 183.18 100.23 183.87 101.31 184.76C102.4 185.65 103.39 186.73 104.27 187.72C105.16 188.71 105.95 189.93 106.64 190.68C107.33 191.43 107.53 191.63 108.42 192.22C109.31 192.81 110.79 193.6 111.97 194.24C113.16 194.87 114.34 195.42 115.52 196.01C116.71 196.61 117.89 197.1 119.08 197.79C120.26 198.48 121.05 199.27 122.63 200.16C124.21 201.05 126.97 202.15 128.55 203.14C130.13 204.13 131.12 205.11 132.1 206.1C133.09 207.09 133.88 208.07 134.47 209.06C135.06 210.05 135.42 211.03 135.65 212.02C135.89 213.01 135.89 214 135.89 214.98C135.89 215.97 135.89 217.15 135.65 217.94C135.42 218.73 135.26 219.19 134.47 219.72C133.68 220.25 132.5 220.65 130.92 221.14C129.34 221.64 127.56 222.17 125 222.68C122.43 223.2 119.08 223.77 115.52 224.22C111.97 224.68 107.63 225.05 103.68 225.41C99.74 225.76 95.79 226.08 91.84 226.35C87.89 226.63 84.47 226.69 80 227.07C75.53 227.44 69.67 228.13 65 228.6C60.33 229.07 55.5 229.52 52 229.9C48.5 230.28 46.23 230.62 44 230.9C41.77 231.18 39.5 231.48 38.6 231.6" stroke="#000000" stroke-width="1.5" fill="none" stroke-linejoin="round" stroke-linecap="round"/>
<path d="M38.6 153.5C38.67 157.92 38.83 172.25 39 180C39.17 187.75 39.47 194.17 39.6 200C39.73 205.83 39.83 210.67 39.8 215C39.77 219.33 39.57 223.25 39.4 226C39.23 228.75 38.9 230.58 38.8 231.5" stroke="#ff0000" stroke-width="1.3" fill="none" stroke-linejoin="round" stroke-linecap="round"/>
<path d="M41.33 201.95C41.53 202.45 42.02 203.93 42.51 204.91C43.01 205.9 43.4 206.79 44.29 207.88C45.18 208.96 46.26 210.24 47.84 211.43C49.42 212.61 51.79 214 53.76 214.98C55.74 215.97 57.51 216.66 59.68 217.35C61.85 218.04 64.72 218.54 66.79 219.13C68.86 219.72 71.13 220.21 72.12 220.91C73.1 221.6 73.4 222.58 72.71 223.27C72.02 223.97 70.14 224.56 67.97 225.05C65.8 225.55 62.45 225.84 59.68 226.24C56.92 226.63 54.16 227.03 51.39 227.42C48.63 227.82 45.18 228.21 43.1 228.61C41.03 229 39.65 229.59 38.96 229.79" stroke="#ffff00" stroke-width="1.3" fill="none" stroke-linejoin="round" stroke-linecap="round"/>
<path d="M38.8 153.5C38.87 157.92 39 173.3 39.2 180C39.4 186.7 39.75 190.28 40 193.7C40.25 197.12 40.35 198.23 40.7 200.5C41.05 202.77 41.5 205.48 42.1 207.3C42.7 209.12 43.33 209.95 44.29 211.43C45.25 212.91 46.66 214.79 47.84 216.17C49.03 217.55 50.45 218.73 51.39 219.72C52.34 220.71 53.23 221.3 53.53 222.09C53.82 222.88 53.92 223.91 53.17 224.46C52.42 225.01 50.51 225.11 49.03 225.41C47.55 225.7 45.67 225.9 44.29 226.24C42.91 226.57 41.62 226.93 40.74 227.42C39.85 227.91 39.26 228.9 38.96 229.2" stroke="#ff00ff" stroke-width="1.3" fill="none" stroke-linejoin="round" stroke-linecap="round"/>
<path d="M40.74 164.03C40.84 164.62 40.93 166.2 41.33 167.58C41.72 168.97 42.22 170.74 43.1 172.32C43.99 173.9 45.08 175.48 46.66 177.06C48.24 178.64 50.41 180.42 52.58 181.8C54.75 183.18 57.12 184.07 59.68 185.35C62.25 186.64 65.21 188.21 67.97 189.5C70.73 190.78 73.69 191.97 76.26 193.05C78.83 194.14 81.39 195.12 83.37 196.01C85.34 196.9 87.02 197.59 88.1 198.38C89.19 199.17 89.55 200.15 89.88 200.75C90.21 201.35 90.36 201.41 90.1 202C89.84 202.59 89.2 203.52 88.3 204.3C87.4 205.08 86.08 206 84.7 206.7C83.32 207.4 81.21 208.01 80 208.5C78.79 208.99 79.45 208.97 77.44 209.65C75.44 210.34 71.13 211.63 67.97 212.61C64.81 213.6 61.26 214.59 58.5 215.58C55.74 216.56 53.56 217.65 51.39 218.54C49.22 219.43 47.15 220.02 45.47 220.91C43.8 221.79 42.32 222.88 41.33 223.87C40.34 224.85 40.01 225.84 39.55 226.83C39.1 227.82 38.76 229.3 38.61 229.79" stroke="#0000ff" stroke-width="1.3" fill="none" stroke-linejoin="round" stroke-linecap="round"/>
<path d="M41 196C41.13 196.42 41.27 197.63 41.8 198.5C42.33 199.37 43.12 200.18 44.2 201.2C45.28 202.22 46.83 203.35 48.3 204.6C49.77 205.85 51.89 207.56 53 208.7C54.11 209.84 54.33 210.48 54.95 211.43C55.57 212.38 56.52 213.5 56.72 214.39C56.92 215.28 57.02 216.07 56.13 216.76C55.24 217.45 52.97 217.94 51.39 218.54C49.81 219.13 48.04 219.62 46.66 220.31C45.28 221 44.09 221.79 43.1 222.68C42.12 223.57 41.43 224.66 40.74 225.64C40.05 226.63 39.26 228.11 38.96 228.61" stroke="#00ff00" stroke-width="1.3" fill="none" stroke-linejoin="round" stroke-linecap="round"/>
<path d="M38.37 152.78C39.95 153.47 44.29 155.74 47.84 156.92C51.39 158.11 56.13 159 59.68 159.88C63.24 160.77 66.39 161.46 69.16 162.25C71.92 163.04 74.44 163.73 76.26 164.62C78.08 165.51 79.36 166.6 80.05 167.58C80.74 168.57 80.54 169.36 80.4 170.55C80.27 171.73 79.71 173.01 79.22 174.69C78.73 176.37 78.14 178.84 77.44 180.61C76.75 182.39 76.26 183.97 75.08 185.35C73.89 186.73 72.07 188.2 70.34 188.91C68.61 189.61 66.67 188.87 64.7 189.6C62.73 190.33 60.55 192.17 58.5 193.3C56.45 194.43 54.45 195.43 52.4 196.4C50.35 197.37 47.92 198.18 46.2 199.1C44.48 200.02 43.13 201.08 42.1 201.9C41.07 202.72 40.35 203.65 40 204" stroke="#ff6600" stroke-width="1.3" fill="none" stroke-linejoin="round" stroke-linecap="round"/>
<path d="M38.7 160C38.8 160.67 39.17 161.98 39.32 164.03C39.46 166.08 39.32 169.76 39.55 172.32C39.79 174.89 40.14 177.26 40.74 179.43C41.33 181.6 42.43 183.66 43.1 185.35C43.78 187.05 43.93 188.33 44.8 189.6C45.67 190.87 47.03 191.82 48.3 193C49.57 194.18 50.93 195.33 52.4 196.7C53.87 198.07 55.52 199.77 57.1 201.2C58.68 202.63 60.53 204.05 61.9 205.3C63.27 206.55 64.19 207.18 65.3 208.7C66.41 210.22 68.12 212.85 68.56 214.39C69.01 215.93 68.66 216.86 67.97 217.94C67.28 219.03 66.2 219.92 64.42 220.91C62.64 221.89 59.68 222.98 57.31 223.87C54.95 224.76 52.58 225.55 50.21 226.24C47.84 226.93 44.88 227.42 43.1 228.01C41.33 228.61 40.14 229.49 39.55 229.79" stroke="#00ffff" stroke-width="1.3" fill="none" stroke-linejoin="round" stroke-linecap="round"/>
<path d="M38.7 153.5C39 154.58 39.98 157.58 40.5 160C41.02 162.42 41.5 164.67 41.8 168C42.1 171.33 42.22 172.17 42.3 180C42.38 187.83 42.35 207.67 42.3 215C42.25 222.33 42.3 221.83 42 224C41.7 226.17 41.03 226.83 40.5 228C39.97 229.17 39.08 230.5 38.8 231" stroke="#ffb6c1" stroke-width="1.3" fill="none" stroke-linejoin="round" stroke-linecap="round"/>
<path d="M38.4 153.3V231.9" stroke="#ff0000" stroke-width="0.8" opacity="0.0"/>
<path d="M39.4 153.3V231.9" stroke="#c040c0" stroke-width="0.9" opacity="0.6"/>
<path d="M38.4 231.9v2.6M38.4 153.3v-2.6M43.07 231.9v1.3M43.07 153.3v-1.3M47.73 231.9v1.3M47.73 153.3v-1.3M52.4 231.9v2.6M52.4 153.3v-2.6M57.07 231.9v1.3M57.07 153.3v-1.3M61.73 231.9v1.3M61.73 153.3v-1.3M66.4 231.9v2.6M66.4 153.3v-2.6M71.07 231.9v1.3M71.07 153.3v-1.3M75.73 231.9v1.3M75.73 153.3v-1.3M80.4 231.9v2.6M80.4 153.3v-2.6M85.07 231.9v1.3M85.07 153.3v-1.3M89.73 231.9v1.3M89.73 153.3v-1.3M94.4 231.9v2.6M94.4 153.3v-2.6M99.07 231.9v1.3M99.07 153.3v-1.3M103.73 231.9v1.3M103.73 153.3v-1.3M108.4 231.9v2.6M108.4 153.3v-2.6M113.07 231.9v1.3M113.07 153.3v-1.3M117.73 231.9v1.3M117.73 153.3v-1.3M122.4 231.9v2.6M122.4 153.3v-2.6M127.07 231.9v1.3M127.07 153.3v-1.3M131.73 231.9v1.3M131.73 153.3v-1.3M136.4 231.9v2.6M136.4 153.3v-2.6M38.4 231.9h-2.6M136.4 231.9h2.6M38.4 227.53h-1.3M136.4 227.53h1.3M38.4 223.17h-1.3M136.4 223.17h1.3M38.4 218.8h-2.6M136.4 218.8h2.6M38.4 214.43h-1.3M136.4 214.43h1.3M38.4 210.07h-1.3M136.4 210.07h1.3M38.4 205.7h-2.6M136.4 205.7h2.6M38.4 201.33h-1.3M136.4 201.33h1.3M38.4 196.97h-1.3M136.4 196.97h1.3M38.4 192.6h-2.6M136.4 192.6h2.6M38.4 188.23h-1.3M136.4 188.23h1.3M38.4 183.87h-1.3M136.4 183.87h1.3M38.4 179.5h-2.6M136.4 179.5h2.6M38.4 175.13h-1.3M136.4 175.13h1.3M38.4 170.77h-1.3M136.4 170.77h1.3M38.4 166.4h-2.6M136.4 166.4h2.6M38.4 162.03h-1.3M136.4 162.03h1.3M38.4 157.67h-1.3M136.4 157.67h1.3M38.4 153.3h-2.6M136.4 153.3h2.6" stroke="#222" stroke-width="0.8" fill="none"/>
<rect x="38.4" y="153.3" width="98" height="78.6" fill="none" stroke="#222" stroke-width="1"/>
<text x="38.4" y="245.7" font-size="8" text-anchor="middle">0</text>
<text x="52.4" y="245.7" font-size="8" text-anchor="middle">3</text>
<text x="66.4" y="245.7" font-size="8" text-anchor="middle">6</text>
<text x="80.4" y="245.7" font-size="8" text-anchor="middle">9</text>
<text x="94.4" y="245.7" font-size="8" text-anchor="middle">12</text>
<text x="108.4" y="245.7" font-size="8" text-anchor="middle">15</text>
<text x="122.4" y="245.7" font-size="8" text-anchor="middle">18</text>
<text x="136.4" y="245.7" font-size="8" text-anchor="middle">21</text>
<text x="31.1" y="234.8" font-size="8" text-anchor="end">0</text>
<text x="31.1" y="221.7" font-size="8" text-anchor="end">3</text>
<text x="31.1" y="208.6" font-size="8" text-anchor="end">6</text>
<text x="31.1" y="195.5" font-size="8" text-anchor="end">9</text>
<text x="31.1" y="182.4" font-size="8" text-anchor="end">12</text>
<text x="31.1" y="169.3" font-size="8" text-anchor="end">15</text>
<text x="31.1" y="156.2" font-size="8" text-anchor="end">18</text>
<text x="38" y="148.8" font-size="8.1" xml:space="preserve">(e) Land 15.1%</text>
<text x="87.4" y="260.5" font-size="10.8" text-anchor="middle">Cloud Fraction (%)</text>
<text transform="translate(13.7 192.6) rotate(-90)" x="0" y="0" font-size="10.8" text-anchor="middle">Height (km)</text>
<path d="M189.63 153.3V231.9M205.97 153.3V231.9M222.3 153.3V231.9M238.63 153.3V231.9M254.97 153.3V231.9M173.3 218.8H271.3M173.3 205.7H271.3M173.3 192.6H271.3M173.3 179.5H271.3M173.3 166.4H271.3" stroke="#8a8a8a" stroke-width="0.7" stroke-dasharray="1.6 3.4" fill="none"/>
<path d="M173.61 153.37C177.12 154.06 187.78 156.23 194.68 157.52C201.58 158.8 210.03 160.18 215 161.07C219.97 161.96 221.32 162.25 224.47 162.85C227.63 163.44 230.79 164.03 233.95 164.62C237.1 165.21 240.66 165.71 243.42 166.4C246.18 167.09 248.35 167.98 250.52 168.77C252.69 169.56 254.91 170.35 256.44 171.14C257.98 171.93 259.17 172.82 259.76 173.51C260.35 174.2 260.35 174.59 260 175.28C259.64 175.97 258.81 176.86 257.63 177.65C256.44 178.44 254.67 179.13 252.89 180.02C251.12 180.91 248.95 182 246.97 182.98C245 183.97 243.02 184.96 241.05 185.94C239.08 186.93 236.71 187.92 235.13 188.91C233.55 189.89 232.47 190.88 231.58 191.87C230.69 192.85 230.1 193.74 229.8 194.83C229.51 195.92 229.41 197.31 229.8 198.4C230.2 199.49 231.08 200.47 232.17 201.36C233.26 202.25 234.83 203.04 236.31 203.73C237.79 204.42 239.57 205.01 241.05 205.51C242.53 206 244.25 206.2 245.2 206.69C246.14 207.18 246.73 207.78 246.73 208.47C246.73 209.16 245.55 210.05 245.2 210.84C244.84 211.63 244.31 212.52 244.6 213.21C244.9 213.9 245.59 214.39 246.97 214.98C248.35 215.58 250.92 216.21 252.89 216.76C254.87 217.31 257.04 217.81 258.81 218.3C260.59 218.79 262.46 219.29 263.55 219.72C264.63 220.16 265.33 220.51 265.33 220.91C265.33 221.3 265.03 221.7 263.55 222.09C262.07 222.49 259.6 222.88 256.44 223.27C253.29 223.67 248.55 224.1 244.6 224.46C240.66 224.81 236.71 225.11 232.76 225.41C228.81 225.7 223.88 226.04 220.92 226.24C217.96 226.43 218.49 226.33 215 226.59C211.51 226.85 205 227.37 200 227.8C195 228.23 189.4 228.62 185 229.2C180.6 229.78 175.5 230.95 173.6 231.3" stroke="#000000" stroke-width="1.5" fill="none" stroke-linejoin="round" stroke-linecap="round"/>
<path d="M173.5 153.5C173.52 161.25 173.52 188.92 173.6 200C173.68 211.08 174 214.78 174 220C174 225.22 173.67 229.42 173.6 231.3" stroke="#ff0000" stroke-width="1.3" fill="none" stroke-linejoin="round" stroke-linecap="round"/>
<path d="M173.61 192.48C173.66 193.46 173.7 196.42 173.96 198.4C174.22 200.37 174.75 202.35 175.14 204.32C175.54 206.3 175.84 208.67 176.33 210.24C176.82 211.82 177.22 212.71 178.1 213.8C178.99 214.88 180.28 216.07 181.66 216.76C183.04 217.45 184.81 217.55 186.39 217.94C187.97 218.34 190.14 218.64 191.13 219.13C192.12 219.62 192.51 220.31 192.31 220.91C192.12 221.5 191.13 222.19 189.95 222.68C188.76 223.18 186.79 223.37 185.21 223.87C183.63 224.36 182.05 225.05 180.47 225.64C178.89 226.24 176.88 226.83 175.74 227.42C174.59 228.01 173.96 228.9 173.61 229.2" stroke="#ffff00" stroke-width="1.3" fill="none" stroke-linejoin="round" stroke-linecap="round"/>
<path d="M173.5 153.5C173.52 158.75 173.58 178.11 173.6 185C173.62 191.89 173.35 192.8 173.61 194.83C173.86 196.86 174.49 196.31 175.14 197.2C175.8 198.09 176.82 199.19 177.51 200.16C178.2 201.13 178.8 201.91 179.29 203C179.78 204.09 179.68 205.19 180.47 206.69C181.26 208.19 182.64 210.64 184.03 212.02C185.41 213.4 186.59 214.09 188.76 214.98C190.93 215.87 194.09 216.56 197.05 217.35C200.01 218.14 204.06 218.93 206.52 219.72C208.99 220.51 211.06 221.4 211.85 222.09C212.64 222.78 213.14 223.37 211.26 223.87C209.39 224.36 204.35 224.66 200.6 225.05C196.85 225.45 192.12 225.84 188.76 226.24C185.41 226.63 182.84 227.03 180.47 227.42C178.1 227.82 175.74 228.11 174.55 228.61C173.37 229.1 173.57 230.09 173.37 230.38" stroke="#ff00ff" stroke-width="1.3" fill="none" stroke-linejoin="round" stroke-linecap="round"/>
<path d="M175.74 162.85C175.93 163.24 176.33 164.23 176.92 165.21C177.51 166.2 178.3 167.49 179.29 168.77C180.28 170.05 181.46 171.43 182.84 172.91C184.22 174.39 186 176.17 187.58 177.65C189.16 179.13 190.74 180.32 192.31 181.8C193.89 183.28 195.57 185.15 197.05 186.54C198.53 187.92 200.25 189 201.2 190.09C202.14 191.18 202.64 192.06 202.73 193.05C202.83 194.04 202.34 194.92 201.79 196.01C201.23 197.1 200.8 198.3 199.42 199.58C198.04 200.87 195.47 202.45 193.5 203.73C191.52 205.01 189.35 206.1 187.58 207.28C185.8 208.47 184.12 209.55 182.84 210.84C181.56 212.12 180.77 213.5 179.88 214.98C178.99 216.46 178.2 218.24 177.51 219.72C176.82 221.2 176.33 222.49 175.74 223.87C175.14 225.25 174.36 226.93 173.96 228.01C173.57 229.1 173.47 229.99 173.37 230.38" stroke="#0000ff" stroke-width="1.3" fill="none" stroke-linejoin="round" stroke-linecap="round"/>
<path d="M174.32 188.91C174.55 189.4 174.91 190.68 175.74 191.87C176.57 193.05 177.91 194.83 179.29 196.01C180.67 197.2 182.45 198.09 184.03 198.97C185.6 199.86 187.18 200.67 188.76 201.34C190.34 202.01 192.12 202.31 193.5 203C194.88 203.7 195.08 204.69 197.05 205.51C199.02 206.32 203.66 207.18 205.34 207.88C207.02 208.57 207.02 208.96 207.12 209.65C207.21 210.34 206.23 211.13 205.93 212.02C205.64 212.91 206.23 214 205.34 214.98C204.45 215.97 202.38 217.15 200.6 217.94C198.83 218.73 196.66 219.23 194.68 219.72C192.71 220.21 190.74 220.31 188.76 220.91C186.79 221.5 184.62 222.49 182.84 223.27C181.07 224.06 179.49 224.85 178.1 225.64C176.72 226.43 175.34 227.22 174.55 228.01C173.76 228.8 173.57 229.99 173.37 230.38" stroke="#00ff00" stroke-width="1.3" fill="none" stroke-linejoin="round" stroke-linecap="round"/>
<path d="M173.61 153.37C175.14 153.76 179.33 154.95 182.84 155.74C186.35 156.53 190.74 157.32 194.68 158.11C198.63 158.9 203.14 159.98 206.52 160.48C209.91 160.97 212.4 160.58 215 161.07C217.6 161.56 219.74 162.65 222.1 163.44C224.47 164.23 226.84 165.02 229.21 165.81C231.58 166.6 234.34 167.39 236.31 168.18C238.29 168.97 240.06 169.76 241.05 170.55C242.04 171.33 242.43 172.12 242.24 172.91C242.04 173.7 241.25 174.49 239.87 175.28C238.49 176.07 236.12 176.86 233.95 177.65C231.78 178.44 229.83 179.13 226.84 180.02C223.85 180.91 219.38 182 216 182.98C212.61 183.97 209.68 184.96 206.52 185.94C203.37 186.93 200.01 188.02 197.05 188.91C194.09 189.79 191.33 190.49 188.76 191.27C186.2 192.06 183.53 192.95 181.66 193.64C179.78 194.33 178.6 194.83 177.51 195.42C176.43 196.01 175.54 196.9 175.14 197.2" stroke="#ff6600" stroke-width="1.3" fill="none" stroke-linejoin="round" stroke-linecap="round"/>
<path d="M173.6 153.5C173.66 154.27 173.7 156.15 173.96 158.11C174.22 160.06 174.75 162.85 175.14 165.21C175.54 167.58 175.93 169.95 176.33 172.32C176.72 174.69 177.12 177.06 177.51 179.43C177.91 181.8 178.3 184.17 178.7 186.54C179.09 188.91 179.49 191.47 179.88 193.64C180.28 195.82 180.73 198.01 181.07 199.57C181.4 201.13 181.7 201.81 181.89 203C182.09 204.19 182.19 205.09 182.25 206.69C182.31 208.29 182.35 210.64 182.25 212.61C182.15 214.59 182.05 216.76 181.66 218.54C181.26 220.31 180.67 221.89 179.88 223.27C179.09 224.66 177.81 225.84 176.92 226.83C176.03 227.82 175.14 228.57 174.55 229.2C173.96 229.83 173.57 230.38 173.37 230.62" stroke="#00ffff" stroke-width="1.3" fill="none" stroke-linejoin="round" stroke-linecap="round"/>
<path d="M173.6 153.5C173.76 154.27 174 156.15 174.55 158.11C175.11 160.06 176.23 162.85 176.92 165.21C177.61 167.58 178.2 169.95 178.7 172.32C179.19 174.69 179.49 177.06 179.88 179.43C180.28 181.8 180.77 184.17 181.07 186.54C181.36 188.91 181.46 191.27 181.66 193.64C181.85 196.01 182.05 198.18 182.25 200.75C182.45 203.32 182.74 206.1 182.84 209.06C182.94 212.02 183.04 215.97 182.84 218.54C182.64 221.1 182.64 222.78 181.66 224.46C180.67 226.14 178.26 227.58 176.92 228.61C175.58 229.63 174.16 230.28 173.61 230.62" stroke="#ffb6c1" stroke-width="1.3" fill="none" stroke-linejoin="round" stroke-linecap="round"/>
<path d="M173.3 153.3V231.9" stroke="#ff0000" stroke-width="0.8" opacity="0.0"/>
<path d="M174.3 153.3V231.9" stroke="#e090a0" stroke-width="0.9" opacity="0.6"/>
<path d="M173.3 231.9v2.6M173.3 153.3v-2.6M178.74 231.9v1.3M178.74 153.3v-1.3M184.19 231.9v1.3M184.19 153.3v-1.3M189.63 231.9v2.6M189.63 153.3v-2.6M195.08 231.9v1.3M195.08 153.3v-1.3M200.52 231.9v1.3M200.52 153.3v-1.3M205.97 231.9v2.6M205.97 153.3v-2.6M211.41 231.9v1.3M211.41 153.3v-1.3M216.86 231.9v1.3M216.86 153.3v-1.3M222.3 231.9v2.6M222.3 153.3v-2.6M227.74 231.9v1.3M227.74 153.3v-1.3M233.19 231.9v1.3M233.19 153.3v-1.3M238.63 231.9v2.6M238.63 153.3v-2.6M244.08 231.9v1.3M244.08 153.3v-1.3M249.52 231.9v1.3M249.52 153.3v-1.3M254.97 231.9v2.6M254.97 153.3v-2.6M260.41 231.9v1.3M260.41 153.3v-1.3M265.86 231.9v1.3M265.86 153.3v-1.3M271.3 231.9v2.6M271.3 153.3v-2.6M271.3 231.9h2.6M271.3 227.53h1.3M271.3 223.17h1.3M271.3 218.8h2.6M271.3 214.43h1.3M271.3 210.07h1.3M271.3 205.7h2.6M271.3 201.33h1.3M271.3 196.97h1.3M271.3 192.6h2.6M271.3 188.23h1.3M271.3 183.87h1.3M271.3 179.5h2.6M271.3 175.13h1.3M271.3 170.77h1.3M271.3 166.4h2.6M271.3 162.03h1.3M271.3 157.67h1.3M271.3 153.3h2.6" stroke="#222" stroke-width="0.8" fill="none"/>
<rect x="173.3" y="153.3" width="98" height="78.6" fill="none" stroke="#222" stroke-width="1"/>
<text x="173.3" y="245.7" font-size="8" text-anchor="middle">0</text>
<text x="189.63" y="245.7" font-size="8" text-anchor="middle">3</text>
<text x="205.97" y="245.7" font-size="8" text-anchor="middle">6</text>
<text x="222.3" y="245.7" font-size="8" text-anchor="middle">9</text>
<text x="238.63" y="245.7" font-size="8" text-anchor="middle">12</text>
<text x="254.97" y="245.7" font-size="8" text-anchor="middle">15</text>
<text x="271.3" y="245.7" font-size="8" text-anchor="middle">18</text>
<text x="172.9" y="148.8" font-size="8.1" xml:space="preserve">(f) Low latitude  11.4%</text>
<text x="222.3" y="260.5" font-size="10.8" text-anchor="middle">Cloud Fraction (%)</text>
<path d="M324.63 153.3V231.9M340.97 153.3V231.9M357.3 153.3V231.9M373.63 153.3V231.9M389.97 153.3V231.9M308.3 218.8H406.3M308.3 205.7H406.3M308.3 192.6H406.3M308.3 179.5H406.3M308.3 166.4H406.3" stroke="#8a8a8a" stroke-width="0.7" stroke-dasharray="1.6 3.4" fill="none"/>
<path d="M308.61 153.96C308.76 155.05 309.2 158.21 309.55 160.48C309.91 162.75 310.24 165.71 310.74 167.58C311.23 169.46 311.72 170.64 312.51 171.73C313.3 172.82 314.19 173.41 315.47 174.1C316.76 174.79 318.24 175.28 320.21 175.88C322.18 176.47 324.75 177.06 327.31 177.65C329.88 178.24 332.84 178.84 335.6 179.43C338.37 180.02 340.93 180.65 343.89 181.21C346.85 181.76 351.16 182.45 353.37 182.75C355.57 183.04 355.3 182.71 357.1 182.98C358.91 183.26 361.84 183.91 364.21 184.4C366.58 184.9 369.14 185.39 371.31 185.94C373.49 186.5 375.46 187.03 377.24 187.72C379.01 188.41 380.69 189.3 381.97 190.09C383.25 190.88 384.04 191.57 384.93 192.46C385.82 193.35 386.65 194.53 387.3 195.42C387.95 196.31 388.54 196.72 388.84 197.81C389.14 198.9 389.23 200.57 389.08 201.95C388.92 203.33 388.29 204.72 387.89 206.1C387.5 207.48 386.71 209.16 386.71 210.24C386.71 211.33 387.2 211.82 387.89 212.61C388.58 213.4 389.87 214.19 390.85 214.98C391.84 215.77 393.02 216.56 393.81 217.35C394.6 218.14 395.59 219.03 395.59 219.72C395.59 220.41 394.9 221 393.81 221.5C392.73 221.99 391.44 222.29 389.08 222.68C386.71 223.08 383.16 223.47 379.6 223.87C376.05 224.26 371.71 224.66 367.76 225.05C363.81 225.45 358.88 225.94 355.92 226.24C352.96 226.53 353.49 226.53 350 226.83C346.51 227.12 340 227.55 335 228C330 228.45 324.4 228.95 320 229.5C315.6 230.05 310.5 231 308.6 231.3" stroke="#000000" stroke-width="1.5" fill="none" stroke-linejoin="round" stroke-linecap="round"/>
<path d="M308.5 153.5C308.52 161.25 308.53 188.92 308.6 200C308.67 211.08 308.9 214.78 308.9 220C308.9 225.22 308.65 229.42 308.6 231.3" stroke="#ff0000" stroke-width="1.3" fill="none" stroke-linejoin="round" stroke-linecap="round"/>
<path d="M310.74 209.06C311.03 209.65 311.53 211.63 312.51 212.61C313.5 213.6 314.78 214.39 316.66 214.98C318.53 215.58 321.2 215.67 323.76 216.17C326.33 216.66 329.29 217.35 332.05 217.94C334.81 218.54 338.37 219.13 340.34 219.72C342.31 220.31 343.3 220.81 343.89 221.5C344.48 222.19 344.88 223.18 343.89 223.87C342.91 224.56 340.34 225.11 337.97 225.64C335.6 226.18 332.64 226.57 329.68 227.07C326.72 227.56 323.17 228.15 320.21 228.61C317.25 229.06 313.8 229.45 311.92 229.79C310.05 230.13 309.45 230.48 308.96 230.62" stroke="#ffff00" stroke-width="1.3" fill="none" stroke-linejoin="round" stroke-linecap="round"/>
<path d="M308.5 153.5C308.53 160.42 308.43 187.32 308.7 195C308.97 202.68 309.81 198.03 310.14 199.58C310.48 201.14 310.34 202.55 310.74 204.32C311.13 206.1 311.82 208.47 312.51 210.24C313.2 212.02 313.99 213.6 314.88 214.98C315.77 216.36 316.95 217.45 317.84 218.54C318.73 219.62 319.81 220.61 320.21 221.5C320.6 222.39 320.8 223.27 320.21 223.87C319.62 224.46 318.04 224.66 316.66 225.05C315.28 225.45 313.14 225.74 311.92 226.24C310.7 226.73 309.89 227.32 309.32 228.01C308.74 228.7 308.62 229.99 308.49 230.38" stroke="#ff00ff" stroke-width="1.3" fill="none" stroke-linejoin="round" stroke-linecap="round"/>
<path d="M308.96 173.51C309.16 174 309.55 175.48 310.14 176.47C310.74 177.46 311.23 178.44 312.51 179.43C313.8 180.42 315.77 181.4 317.84 182.39C319.91 183.38 322.38 184.36 324.95 185.35C327.51 186.34 330.47 187.33 333.24 188.31C336 189.3 338.76 190.29 341.52 191.27C344.29 192.26 347.44 193.35 349.81 194.24C352.18 195.12 354.15 195.82 355.73 196.61C357.31 197.4 358.57 198.21 359.29 198.97C360 199.74 360.3 200.53 360 201.2C359.7 201.87 358.38 202.57 357.5 203C356.62 203.43 356.97 202.89 354.7 203.8C352.43 204.71 347.27 207.1 343.89 208.47C340.51 209.84 337.38 210.84 334.42 212.02C331.46 213.21 328.7 214.49 326.13 215.58C323.56 216.66 321.2 217.55 319.03 218.54C316.85 219.52 314.58 220.51 313.1 221.5C311.62 222.49 310.84 223.37 310.14 224.46C309.45 225.55 309.26 227.03 308.96 228.01C308.66 229 308.47 229.99 308.37 230.38" stroke="#0000ff" stroke-width="1.3" fill="none" stroke-linejoin="round" stroke-linecap="round"/>
<path d="M310.14 196.01C310.34 196.41 310.84 197.59 311.33 198.38C311.82 199.17 312.51 199.98 313.1 200.75C313.7 201.52 314.49 202.51 314.88 203C315.28 203.5 314.58 202.92 315.47 203.73C316.36 204.54 318.63 206.49 320.21 207.88C321.79 209.26 323.66 210.74 324.95 212.02C326.23 213.3 327.71 214.59 327.91 215.58C328.1 216.56 327.22 217.25 326.13 217.94C325.04 218.64 323.17 219.03 321.39 219.72C319.62 220.41 317.05 221.3 315.47 222.09C313.89 222.88 312.91 223.57 311.92 224.46C310.93 225.35 310.12 226.43 309.55 227.42C308.98 228.41 308.66 229.89 308.49 230.38" stroke="#00ff00" stroke-width="1.3" fill="none" stroke-linejoin="round" stroke-linecap="round"/>
<path d="M308.61 153.96C308.76 155.05 309.2 158.21 309.55 160.48C309.91 162.75 310.24 165.71 310.74 167.58C311.23 169.46 311.72 170.64 312.51 171.73C313.3 172.82 314.19 173.41 315.47 174.1C316.76 174.79 318.24 175.18 320.21 175.88C322.18 176.57 324.95 177.36 327.31 178.24C329.68 179.13 332.25 180.32 334.42 181.21C336.59 182.09 338.66 182.88 340.34 183.58C342.02 184.27 343.6 184.76 344.48 185.35C345.37 185.94 345.77 186.44 345.67 187.13C345.57 187.82 344.98 188.81 343.89 189.5C342.81 190.19 341.13 190.68 339.16 191.27C337.18 191.87 334.62 192.36 332.05 193.05C329.49 193.74 326.33 194.63 323.76 195.42C321.2 196.21 318.53 197 316.66 197.79C314.78 198.58 313.5 199.37 312.51 200.16C311.53 200.95 311.27 201.55 310.74 202.53C310.2 203.5 309.54 205.42 309.3 206" stroke="#ff6600" stroke-width="1.3" fill="none" stroke-linejoin="round" stroke-linecap="round"/>
<path d="M308.6 170C308.66 171.08 308.7 174.5 308.96 176.47C309.22 178.43 309.65 180.12 310.14 181.8C310.64 183.48 311.13 184.96 311.92 186.54C312.71 188.12 313.89 189.79 314.88 191.27C315.87 192.76 316.76 194.04 317.84 195.42C318.93 196.8 320.31 198.3 321.39 199.57C322.48 200.83 323.56 201.81 324.35 203C325.14 204.19 325.04 205.29 326.13 206.69C327.22 208.1 329.58 210.05 330.87 211.43C332.15 212.81 333.33 213.8 333.83 214.98C334.32 216.17 334.32 217.35 333.83 218.54C333.33 219.72 332.54 221 330.87 222.09C329.19 223.18 326.13 224.26 323.76 225.05C321.39 225.84 318.83 226.24 316.66 226.83C314.49 227.42 312.08 228.01 310.74 228.61C309.39 229.2 308.96 230.09 308.61 230.38" stroke="#00ffff" stroke-width="1.3" fill="none" stroke-linejoin="round" stroke-linecap="round"/>
<path d="M308.3 153.3V231.9" stroke="#ff0000" stroke-width="0.8" opacity="0.0"/>
<path d="M309.3 153.3V231.9" stroke="#e090a0" stroke-width="0.9" opacity="0.6"/>
<path d="M308.3 231.9v2.6M308.3 153.3v-2.6M312.38 231.9v1.3M312.38 153.3v-1.3M316.47 231.9v1.3M316.47 153.3v-1.3M320.55 231.9v1.3M320.55 153.3v-1.3M324.63 231.9v2.6M324.63 153.3v-2.6M328.72 231.9v1.3M328.72 153.3v-1.3M332.8 231.9v1.3M332.8 153.3v-1.3M336.88 231.9v1.3M336.88 153.3v-1.3M340.97 231.9v2.6M340.97 153.3v-2.6M345.05 231.9v1.3M345.05 153.3v-1.3M349.13 231.9v1.3M349.13 153.3v-1.3M353.22 231.9v1.3M353.22 153.3v-1.3M357.3 231.9v2.6M357.3 153.3v-2.6M361.38 231.9v1.3M361.38 153.3v-1.3M365.47 231.9v1.3M365.47 153.3v-1.3M369.55 231.9v1.3M369.55 153.3v-1.3M373.63 231.9v2.6M373.63 153.3v-2.6M377.72 231.9v1.3M377.72 153.3v-1.3M381.8 231.9v1.3M381.8 153.3v-1.3M385.88 231.9v1.3M385.88 153.3v-1.3M389.97 231.9v2.6M389.97 153.3v-2.6M394.05 231.9v1.3M394.05 153.3v-1.3M398.13 231.9v1.3M398.13 153.3v-1.3M402.22 231.9v1.3M402.22 153.3v-1.3M406.3 231.9v2.6M406.3 153.3v-2.6M406.3 231.9h2.6M406.3 227.53h1.3M406.3 223.17h1.3M406.3 218.8h2.6M406.3 214.43h1.3M406.3 210.07h1.3M406.3 205.7h2.6M406.3 201.33h1.3M406.3 196.97h1.3M406.3 192.6h2.6M406.3 188.23h1.3M406.3 183.87h1.3M406.3 179.5h2.6M406.3 175.13h1.3M406.3 170.77h1.3M406.3 166.4h2.6M406.3 162.03h1.3M406.3 157.67h1.3M406.3 153.3h2.6" stroke="#222" stroke-width="0.8" fill="none"/>
<rect x="308.3" y="153.3" width="98" height="78.6" fill="none" stroke="#222" stroke-width="1"/>
<text x="308.3" y="245.7" font-size="8" text-anchor="middle">0</text>
<text x="324.63" y="245.7" font-size="8" text-anchor="middle">4</text>
<text x="340.97" y="245.7" font-size="8" text-anchor="middle">8</text>
<text x="357.3" y="245.7" font-size="8" text-anchor="middle">12</text>
<text x="373.63" y="245.7" font-size="8" text-anchor="middle">16</text>
<text x="389.97" y="245.7" font-size="8" text-anchor="middle">20</text>
<text x="406.3" y="245.7" font-size="8" text-anchor="middle">24</text>
<text x="307.9" y="148.8" font-size="8.1" xml:space="preserve">(g) Middle latitude  14.5%</text>
<text x="357.3" y="260.5" font-size="10.8" text-anchor="middle">Cloud Fraction (%)</text>
<path d="M457.2 153.3V231.9M471.2 153.3V231.9M485.2 153.3V231.9M499.2 153.3V231.9M513.2 153.3V231.9M527.2 153.3V231.9M443.2 218.8H541.2M443.2 205.7H541.2M443.2 192.6H541.2M443.2 179.5H541.2M443.2 166.4H541.2" stroke="#8a8a8a" stroke-width="0.7" stroke-dasharray="1.6 3.4" fill="none"/>
<path d="M443.25 190.7C446.82 190.76 457.16 190.96 464.68 191.05C472.2 191.15 483.4 191.15 488.37 191.29C493.33 191.43 492.47 191.59 494.47 191.88C496.48 192.18 498.42 192.58 500.39 193.07C502.37 193.56 504.14 194.15 506.31 194.85C508.49 195.54 511.05 196.33 513.42 197.21C515.79 198.1 518.35 199.09 520.52 200.18C522.69 201.26 524.67 202.55 526.44 203.73C528.22 204.91 529.8 206.1 531.18 207.28C532.56 208.47 533.94 209.95 534.73 210.84C535.52 211.73 536.02 212.02 535.92 212.61C535.82 213.21 535.13 213.7 534.14 214.39C533.15 215.08 531.67 215.97 530 216.76C528.32 217.55 526.25 218.34 524.08 219.13C521.91 219.92 519.54 220.77 516.97 221.5C514.41 222.23 511.64 222.92 508.68 223.51C505.72 224.1 502.17 224.6 499.21 225.05C496.25 225.51 493.29 225.94 490.92 226.24C488.55 226.53 488.49 226.53 485 226.83C481.51 227.12 475 227.54 470 228C465 228.46 459.42 229.05 455 229.6C450.58 230.15 445.42 231.02 443.5 231.3" stroke="#000000" stroke-width="1.5" fill="none" stroke-linejoin="round" stroke-linecap="round"/>
<path d="M443.25 190.11C443.27 192.87 443.31 200.37 443.37 206.69C443.43 213.01 443.61 223.97 443.61 228.01C443.61 232.06 443.41 230.48 443.37 230.97" stroke="#ff0000" stroke-width="1.3" fill="none" stroke-linejoin="round" stroke-linecap="round"/>
<path d="M443.96 199.58C444.06 199.88 444.26 200.57 444.55 201.36C444.85 202.15 445.14 203.33 445.74 204.32C446.33 205.31 446.92 206.3 448.1 207.28C449.29 208.27 451.07 209.36 452.84 210.24C454.62 211.13 457.18 211.73 458.76 212.61C460.34 213.5 461.13 214.69 462.31 215.58C463.5 216.46 464.29 217.25 465.87 217.94C467.45 218.64 470.21 219.13 471.79 219.72C473.37 220.31 474.75 220.81 475.34 221.5C475.93 222.19 476.13 223.18 475.34 223.87C474.55 224.56 472.77 225.05 470.6 225.64C468.43 226.24 465.27 226.83 462.31 227.42C459.35 228.01 455.6 228.7 452.84 229.2C450.08 229.69 447.28 230.09 445.74 230.38C444.2 230.68 443.96 230.88 443.61 230.97" stroke="#ffff00" stroke-width="1.3" fill="none" stroke-linejoin="round" stroke-linecap="round"/>
<path d="M443.61 203.14C443.72 203.73 444.06 205.11 444.32 206.69C444.57 208.27 444.87 210.64 445.14 212.61C445.42 214.59 445.78 216.76 445.97 218.54C446.17 220.31 446.37 222.09 446.33 223.27C446.29 224.46 446.13 224.95 445.74 225.64C445.34 226.33 444.36 226.73 443.96 227.42C443.57 228.11 443.47 229.4 443.37 229.79" stroke="#ff00ff" stroke-width="1.3" fill="none" stroke-linejoin="round" stroke-linecap="round"/>
<path d="M443.37 190.7C445.93 190.76 454.62 190.86 458.76 191.05C462.91 191.25 465.27 191.25 468.24 191.88C471.2 192.52 473.76 193.86 476.52 194.85C479.29 195.83 482.25 196.82 484.81 197.81C487.38 198.79 490.04 199.78 491.92 200.77C493.79 201.76 495.57 202.84 496.06 203.73C496.56 204.62 495.96 205.31 494.88 206.1C493.79 206.89 491.82 207.58 489.55 208.47C487.28 209.36 484.22 210.44 481.26 211.43C478.3 212.42 474.95 213.4 471.79 214.39C468.63 215.38 465.27 216.36 462.31 217.35C459.35 218.34 456.39 219.33 454.03 220.31C451.66 221.3 449.58 222.29 448.1 223.27C446.62 224.26 445.84 225.25 445.14 226.24C444.45 227.22 444.26 228.47 443.96 229.2C443.66 229.93 443.47 230.38 443.37 230.62" stroke="#0000ff" stroke-width="1.3" fill="none" stroke-linejoin="round" stroke-linecap="round"/>
<path d="M443.84 203.73C443.96 204.03 444.24 204.82 444.55 205.51C444.87 206.2 445.14 207.09 445.74 207.88C446.33 208.67 447.22 209.36 448.1 210.24C448.99 211.13 450.37 212.32 451.07 213.21C451.76 214.09 452.25 214.69 452.25 215.58C452.25 216.46 451.66 217.65 451.07 218.54C450.47 219.43 449.49 220.02 448.7 220.91C447.91 221.79 447.02 222.88 446.33 223.87C445.64 224.85 445.03 225.84 444.55 226.83C444.08 227.82 443.66 229.3 443.49 229.79" stroke="#00ff00" stroke-width="1.3" fill="none" stroke-linejoin="round" stroke-linecap="round"/>
<path d="M462.31 191.29C462.41 191.49 463.1 191.88 462.91 192.48C462.71 193.07 462.02 194.06 461.13 194.85C460.24 195.64 458.96 196.42 457.58 197.21C456.2 198 454.42 198.79 452.84 199.58C451.26 200.37 449.29 201.26 448.1 201.95C446.92 202.64 446.43 202.94 445.74 203.73C445.05 204.52 444.26 206.2 443.96 206.69" stroke="#ff6600" stroke-width="1.3" fill="none" stroke-linejoin="round" stroke-linecap="round"/>
<path d="M443.37 190.7C444.55 190.8 448.7 190.6 450.47 191.29C452.25 191.98 452.64 193.46 454.03 194.85C455.41 196.23 456.99 198 458.76 199.58C460.54 201.16 462.71 202.94 464.68 204.32C466.66 205.7 468.83 206.69 470.6 207.88C472.38 209.06 474.25 210.34 475.34 211.43C476.43 212.52 477.12 213.4 477.12 214.39C477.12 215.38 476.43 216.27 475.34 217.35C474.25 218.44 472.77 219.82 470.6 220.91C468.43 221.99 465.08 222.98 462.31 223.87C459.55 224.76 456.59 225.55 454.03 226.24C451.46 226.93 448.6 227.48 446.92 228.01C445.24 228.55 444.55 229.04 443.96 229.43C443.37 229.83 443.47 230.22 443.37 230.38" stroke="#00ffff" stroke-width="1.3" fill="none" stroke-linejoin="round" stroke-linecap="round"/>
<path d="M443.2 153.3V231.9" stroke="#ff0000" stroke-width="0.8" opacity="0.0"/>
<path d="M444.2 153.3V231.9" stroke="#e090a0" stroke-width="0.9" opacity="0.6"/>
<path d="M443.2 231.9v2.6M443.2 153.3v-2.6M446.7 231.9v1.3M446.7 153.3v-1.3M450.2 231.9v1.3M450.2 153.3v-1.3M453.7 231.9v1.3M453.7 153.3v-1.3M457.2 231.9v2.6M457.2 153.3v-2.6M460.7 231.9v1.3M460.7 153.3v-1.3M464.2 231.9v1.3M464.2 153.3v-1.3M467.7 231.9v1.3M467.7 153.3v-1.3M471.2 231.9v2.6M471.2 153.3v-2.6M474.7 231.9v1.3M474.7 153.3v-1.3M478.2 231.9v1.3M478.2 153.3v-1.3M481.7 231.9v1.3M481.7 153.3v-1.3M485.2 231.9v2.6M485.2 153.3v-2.6M488.7 231.9v1.3M488.7 153.3v-1.3M492.2 231.9v1.3M492.2 153.3v-1.3M495.7 231.9v1.3M495.7 153.3v-1.3M499.2 231.9v2.6M499.2 153.3v-2.6M502.7 231.9v1.3M502.7 153.3v-1.3M506.2 231.9v1.3M506.2 153.3v-1.3M509.7 231.9v1.3M509.7 153.3v-1.3M513.2 231.9v2.6M513.2 153.3v-2.6M516.7 231.9v1.3M516.7 153.3v-1.3M520.2 231.9v1.3M520.2 153.3v-1.3M523.7 231.9v1.3M523.7 153.3v-1.3M527.2 231.9v2.6M527.2 153.3v-2.6M530.7 231.9v1.3M530.7 153.3v-1.3M534.2 231.9v1.3M534.2 153.3v-1.3M537.7 231.9v1.3M537.7 153.3v-1.3M541.2 231.9v2.6M541.2 153.3v-2.6M541.2 231.9h2.6M541.2 227.53h1.3M541.2 223.17h1.3M541.2 218.8h2.6M541.2 214.43h1.3M541.2 210.07h1.3M541.2 205.7h2.6M541.2 201.33h1.3M541.2 196.97h1.3M541.2 192.6h2.6M541.2 188.23h1.3M541.2 183.87h1.3M541.2 179.5h2.6M541.2 175.13h1.3M541.2 170.77h1.3M541.2 166.4h2.6M541.2 162.03h1.3M541.2 157.67h1.3M541.2 153.3h2.6" stroke="#222" stroke-width="0.8" fill="none"/>
<rect x="443.2" y="153.3" width="98" height="78.6" fill="none" stroke="#222" stroke-width="1"/>
<text x="443.2" y="245.7" font-size="8" text-anchor="middle">0</text>
<text x="457.2" y="245.7" font-size="8" text-anchor="middle">4</text>
<text x="471.2" y="245.7" font-size="8" text-anchor="middle">8</text>
<text x="485.2" y="245.7" font-size="8" text-anchor="middle">12</text>
<text x="499.2" y="245.7" font-size="8" text-anchor="middle">16</text>
<text x="513.2" y="245.7" font-size="8" text-anchor="middle">20</text>
<text x="527.2" y="245.7" font-size="8" text-anchor="middle">24</text>
<text x="541.2" y="245.7" font-size="8" text-anchor="middle">28</text>
<text x="442.8" y="148.8" font-size="8.1" xml:space="preserve">(h) High latitude  20.1%</text>
<text x="492.2" y="260.5" font-size="10.8" text-anchor="middle">Cloud Fraction (%)</text>
<path d="M62.9 290.8V369.4M87.4 290.8V369.4M111.9 290.8V369.4M38.4 356.3H136.4M38.4 343.2H136.4M38.4 330.1H136.4M38.4 317H136.4M38.4 303.9H136.4" stroke="#8a8a8a" stroke-width="0.7" stroke-dasharray="1.6 3.4" fill="none"/>
<path d="M38.61 291.13C39.16 291.57 40.58 292.81 41.92 293.74C43.26 294.67 45.08 295.81 46.66 296.7C48.24 297.59 49.81 298.38 51.39 299.07C52.97 299.76 54.75 300.15 56.13 300.85C57.51 301.54 58.5 302.23 59.68 303.21C60.87 304.2 62.05 305.49 63.24 306.77C64.42 308.05 65.7 309.53 66.79 310.91C67.87 312.3 68.86 313.68 69.75 315.06C70.64 316.44 71.46 317.82 72.12 319.21C72.77 320.59 73.36 321.87 73.66 323.35C73.95 324.83 73.66 326.91 73.89 328.09C74.13 329.27 74.58 329.47 75.08 330.46C75.57 331.45 76.26 332.83 76.85 334.01C77.44 335.2 78.14 336.4 78.63 337.57C79.12 338.73 79.39 340.21 79.81 341C80.24 341.79 80.92 341.51 81.18 342.32C81.45 343.13 81.38 344.69 81.42 345.88C81.46 347.06 81.36 348.34 81.42 349.43C81.48 350.52 81.42 351.5 81.78 352.39C82.13 353.28 82.66 354.07 83.55 354.76C84.44 355.45 85.53 355.94 87.1 356.54C88.68 357.13 90.66 357.76 93.03 358.31C95.39 358.87 98.35 359.36 101.31 359.85C104.27 360.35 107.63 360.8 110.79 361.27C113.95 361.75 117.5 362.3 120.26 362.7C123.02 363.09 125.39 363.39 127.37 363.64C129.34 363.9 132.1 364.04 132.1 364.24C132.1 364.43 130.13 364.65 127.37 364.83C124.6 365.01 119.47 365.16 115.52 365.3C111.58 365.44 107.63 365.54 103.68 365.66C99.74 365.78 95.79 365.91 91.84 366.01C87.89 366.11 84.47 366.1 80 366.25C75.53 366.4 69.67 366.64 65 366.9C60.33 367.16 55.5 367.53 52 367.8C48.5 368.07 46.23 368.27 44 368.5C41.77 368.73 39.5 369.08 38.6 369.2" stroke="#000000" stroke-width="1.5" fill="none" stroke-linejoin="round" stroke-linecap="round"/>
<path d="M38.6 291C38.63 297.5 38.7 319.33 38.8 330C38.9 340.67 39.2 348.47 39.2 355C39.2 361.53 38.87 366.83 38.8 369.2" stroke="#ff0000" stroke-width="1.3" fill="none" stroke-linejoin="round" stroke-linecap="round"/>
<path d="M41.33 354.76C42.41 355.06 44.78 355.94 47.84 356.54C50.9 357.13 55.74 357.72 59.68 358.31C63.63 358.91 67.58 359.5 71.52 360.09C75.47 360.68 80.31 361.31 83.37 361.87C86.42 362.42 89.88 362.95 89.88 363.41C89.88 363.86 86.42 364.26 83.37 364.59C80.31 364.93 75.47 365.14 71.52 365.42C67.58 365.7 63.63 365.95 59.68 366.25C55.74 366.55 51.1 366.88 47.84 367.2C44.58 367.51 41.43 367.99 40.14 368.15" stroke="#ffff00" stroke-width="1.3" fill="none" stroke-linejoin="round" stroke-linecap="round"/>
<path d="M38.7 291C38.75 295.83 38.87 311.83 39 320C39.13 328.17 39.31 334.9 39.5 340C39.69 345.1 39.94 348.06 40.14 350.61C40.35 353.17 40.34 353.97 40.74 355.35C41.13 356.73 41.72 357.92 42.51 358.91C43.3 359.89 44.19 360.64 45.47 361.27C46.76 361.91 48.63 362.3 50.21 362.7C51.79 363.09 53.86 363.25 54.95 363.64C56.03 364.04 57.51 364.57 56.72 365.07C55.93 365.56 52.48 366.19 50.21 366.61C47.94 367.02 44.88 367.3 43.1 367.55C41.33 367.81 40.14 368.05 39.55 368.15" stroke="#ff00ff" stroke-width="1.3" fill="none" stroke-linejoin="round" stroke-linecap="round"/>
<path d="M40.14 300.85C40.24 301.83 40.44 304.79 40.74 306.77C41.03 308.74 41.43 310.91 41.92 312.69C42.41 314.47 42.91 315.85 43.7 317.43C44.49 319.01 45.57 320.59 46.66 322.17C47.74 323.75 48.83 325.33 50.21 326.91C51.59 328.49 53.47 330.16 54.95 331.64C56.43 333.12 58.01 334.51 59.09 335.79C60.18 337.07 60.93 338.65 61.46 339.34C61.99 340.04 62.39 339.06 62.29 339.95C62.19 340.84 61.89 343.11 60.87 344.69C59.84 346.27 57.91 348.05 56.13 349.43C54.35 350.81 51.99 351.8 50.21 352.98C48.43 354.17 46.76 355.35 45.47 356.54C44.19 357.72 43.3 358.91 42.51 360.09C41.72 361.27 41.33 362.36 40.74 363.64C40.14 364.93 39.26 367.1 38.96 367.79" stroke="#0000ff" stroke-width="1.3" fill="none" stroke-linejoin="round" stroke-linecap="round"/>
<path d="M40.14 335.81C40.34 336.5 40.84 338.47 41.33 339.95C41.82 341.43 42.41 343.11 43.1 344.69C43.8 346.27 44.68 348.05 45.47 349.43C46.26 350.81 47.55 352 47.84 352.98C48.14 353.97 47.74 354.46 47.25 355.35C46.76 356.24 45.57 357.33 44.88 358.31C44.19 359.3 43.7 360.29 43.1 361.27C42.51 362.26 42.02 363.15 41.33 364.24C40.64 365.32 39.36 367.2 38.96 367.79" stroke="#00ff00" stroke-width="1.3" fill="none" stroke-linejoin="round" stroke-linecap="round"/>
<path d="M38.61 291.13C39.16 291.57 40.58 292.81 41.92 293.74C43.26 294.67 45.08 295.81 46.66 296.7C48.24 297.59 49.81 298.28 51.39 299.07C52.97 299.86 54.75 300.45 56.13 301.44C57.51 302.42 58.74 303.71 59.68 304.99C60.63 306.27 61.32 307.66 61.81 309.14C62.31 310.62 62.56 312.3 62.64 313.88C62.72 315.46 62.58 317.33 62.29 318.61C61.99 319.9 61.6 320.49 60.87 321.58C60.14 322.66 59.09 323.94 57.91 325.13C56.72 326.31 55.24 327.5 53.76 328.68C52.28 329.87 50.41 331.15 49.03 332.24C47.64 333.32 46.56 334.21 45.47 335.2C44.39 336.18 43.3 337.27 42.51 338.16C41.72 339.05 41.22 339.72 40.74 340.53C40.25 341.33 39.79 342.59 39.6 343" stroke="#ff6600" stroke-width="1.3" fill="none" stroke-linejoin="round" stroke-linecap="round"/>
<path d="M38.7 300C38.74 301.33 38.72 304.85 38.96 307.95C39.2 311.06 39.75 315.85 40.14 318.61C40.54 321.38 40.84 322.56 41.33 324.54C41.82 326.51 42.41 328.68 43.1 330.46C43.8 332.24 44.78 333.82 45.47 335.2C46.16 336.58 46.85 337.56 47.25 338.75C47.64 339.94 46.95 340.74 47.84 342.32C48.73 343.9 51.3 346.57 52.58 348.24C53.86 349.92 54.75 351.01 55.54 352.39C56.33 353.77 57.06 355.06 57.31 356.54C57.57 358.02 57.37 359.99 57.08 361.27C56.78 362.56 56.88 363.55 55.54 364.24C54.2 364.93 51.3 365.12 49.03 365.42C46.76 365.72 43.6 365.68 41.92 366.01C40.24 366.35 39.45 367.2 38.96 367.43" stroke="#00ffff" stroke-width="1.3" fill="none" stroke-linejoin="round" stroke-linecap="round"/>
<path d="M38.4 290.8V369.4" stroke="#ff0000" stroke-width="0.8" opacity="0.0"/>
<path d="M39.4 290.8V369.4" stroke="#c040c0" stroke-width="0.9" opacity="0.6"/>
<path d="M38.4 369.4v2.6M38.4 290.8v-2.6M43.3 369.4v1.3M43.3 290.8v-1.3M48.2 369.4v1.3M48.2 290.8v-1.3M53.1 369.4v1.3M53.1 290.8v-1.3M58 369.4v1.3M58 290.8v-1.3M62.9 369.4v2.6M62.9 290.8v-2.6M67.8 369.4v1.3M67.8 290.8v-1.3M72.7 369.4v1.3M72.7 290.8v-1.3M77.6 369.4v1.3M77.6 290.8v-1.3M82.5 369.4v1.3M82.5 290.8v-1.3M87.4 369.4v2.6M87.4 290.8v-2.6M92.3 369.4v1.3M92.3 290.8v-1.3M97.2 369.4v1.3M97.2 290.8v-1.3M102.1 369.4v1.3M102.1 290.8v-1.3M107 369.4v1.3M107 290.8v-1.3M111.9 369.4v2.6M111.9 290.8v-2.6M116.8 369.4v1.3M116.8 290.8v-1.3M121.7 369.4v1.3M121.7 290.8v-1.3M126.6 369.4v1.3M126.6 290.8v-1.3M131.5 369.4v1.3M131.5 290.8v-1.3M136.4 369.4v2.6M136.4 290.8v-2.6M38.4 369.4h-2.6M136.4 369.4h2.6M38.4 365.03h-1.3M136.4 365.03h1.3M38.4 360.67h-1.3M136.4 360.67h1.3M38.4 356.3h-2.6M136.4 356.3h2.6M38.4 351.93h-1.3M136.4 351.93h1.3M38.4 347.57h-1.3M136.4 347.57h1.3M38.4 343.2h-2.6M136.4 343.2h2.6M38.4 338.83h-1.3M136.4 338.83h1.3M38.4 334.47h-1.3M136.4 334.47h1.3M38.4 330.1h-2.6M136.4 330.1h2.6M38.4 325.73h-1.3M136.4 325.73h1.3M38.4 321.37h-1.3M136.4 321.37h1.3M38.4 317h-2.6M136.4 317h2.6M38.4 312.63h-1.3M136.4 312.63h1.3M38.4 308.27h-1.3M136.4 308.27h1.3M38.4 303.9h-2.6M136.4 303.9h2.6M38.4 299.53h-1.3M136.4 299.53h1.3M38.4 295.17h-1.3M136.4 295.17h1.3M38.4 290.8h-2.6M136.4 290.8h2.6" stroke="#222" stroke-width="0.8" fill="none"/>
<rect x="38.4" y="290.8" width="98" height="78.6" fill="none" stroke="#222" stroke-width="1"/>
<text x="38.4" y="383.2" font-size="8" text-anchor="middle">0</text>
<text x="62.9" y="383.2" font-size="8" text-anchor="middle">10</text>
<text x="87.4" y="383.2" font-size="8" text-anchor="middle">20</text>
<text x="111.9" y="383.2" font-size="8" text-anchor="middle">30</text>
<text x="136.4" y="383.2" font-size="8" text-anchor="middle">40</text>
<text x="31.1" y="372.3" font-size="8" text-anchor="end">0</text>
<text x="31.1" y="359.2" font-size="8" text-anchor="end">3</text>
<text x="31.1" y="346.1" font-size="8" text-anchor="end">6</text>
<text x="31.1" y="333" font-size="8" text-anchor="end">9</text>
<text x="31.1" y="319.9" font-size="8" text-anchor="end">12</text>
<text x="31.1" y="306.8" font-size="8" text-anchor="end">15</text>
<text x="31.1" y="293.7" font-size="8" text-anchor="end">18</text>
<text x="38" y="286.3" font-size="8.1" xml:space="preserve">(i) Ocean 16.3%</text>
<text x="87.4" y="398" font-size="10.8" text-anchor="middle">Cloud Fraction (%)</text>
<text transform="translate(13.7 330.1) rotate(-90)" x="0" y="0" font-size="10.8" text-anchor="middle">Height (km)</text>
<path d="M187.3 290.8V369.4M201.3 290.8V369.4M215.3 290.8V369.4M229.3 290.8V369.4M243.3 290.8V369.4M257.3 290.8V369.4M173.3 356.3H271.3M173.3 343.2H271.3M173.3 330.1H271.3M173.3 317H271.3M173.3 303.9H271.3" stroke="#8a8a8a" stroke-width="0.7" stroke-dasharray="1.6 3.4" fill="none"/>
<path d="M173.61 291.13C174.36 291.57 176.17 292.91 178.1 293.74C180.04 294.57 182.45 295.22 185.21 296.11C187.97 297 191.13 298.08 194.68 299.07C198.24 300.06 202.15 300.94 206.52 302.03C210.9 303.12 217.53 304.5 220.92 305.58C224.31 306.67 225.16 307.66 226.84 308.55C228.52 309.43 230.04 310.22 230.99 310.91C231.93 311.61 232.43 312.1 232.53 312.69C232.62 313.28 232.33 313.68 231.58 314.47C230.83 315.26 229.41 316.44 228.03 317.43C226.64 318.42 224.87 319.4 223.29 320.39C221.71 321.38 219.93 322.46 218.55 323.35C217.17 324.24 216.41 324.73 215 325.72C213.59 326.71 211.49 327.91 210.08 329.29C208.66 330.68 207.41 332.45 206.52 334.03C205.64 335.61 205.24 337.19 204.75 338.77C204.25 340.35 203.96 342.12 203.56 343.51C203.17 344.89 202.77 345.88 202.38 347.06C201.98 348.24 201.29 349.63 201.2 350.61C201.1 351.6 201.1 352.19 201.79 352.98C202.48 353.77 203.56 354.66 205.34 355.35C207.12 356.04 209.88 356.58 212.44 357.13C215.01 357.68 217.64 358.18 220.73 358.67C223.83 359.16 229.03 359.7 231.04 360.09C233.04 360.49 230.5 360.64 232.76 361.04C235.02 361.43 240.66 361.99 244.6 362.46C248.55 362.93 253.09 363.49 256.44 363.88C259.8 364.28 262.66 364.57 264.73 364.83C266.81 365.09 269.27 365.26 268.88 365.42C268.48 365.58 265.42 365.66 262.37 365.78C259.31 365.89 254.47 366.03 250.52 366.13C246.58 366.23 242.63 366.31 238.68 366.37C234.74 366.43 230.79 366.43 226.84 366.49C222.89 366.55 219.47 366.6 215 366.72C210.53 366.84 205 366.99 200 367.2C195 367.41 189.4 367.67 185 368C180.6 368.33 175.5 369 173.6 369.2" stroke="#000000" stroke-width="1.5" fill="none" stroke-linejoin="round" stroke-linecap="round"/>
<path d="M173.5 291C173.48 296 173.29 312.05 173.37 321C173.44 329.95 173.76 337.58 173.96 344.69C174.16 351.8 174.61 359.79 174.55 363.64C174.49 367.49 173.76 367.1 173.61 367.79" stroke="#ff0000" stroke-width="1.3" fill="none" stroke-linejoin="round" stroke-linecap="round"/>
<path d="M173.49 338.77C173.51 339.76 173.47 342.32 173.61 344.69C173.74 347.06 173.76 351.11 174.32 352.98C174.87 354.86 175.5 355.15 176.92 355.94C178.34 356.73 180.28 357.23 182.84 357.72C185.41 358.21 189.16 358.41 192.31 358.91C195.47 359.4 198.83 360.19 201.79 360.68C204.75 361.18 208.4 361.47 210.08 361.87C211.75 362.26 212.84 362.66 211.85 363.05C210.87 363.45 207.41 363.84 204.16 364.24C200.9 364.63 195.87 365.03 192.31 365.42C188.76 365.82 185.8 366.21 182.84 366.61C179.88 367 175.93 367.59 174.55 367.79" stroke="#ffff00" stroke-width="1.3" fill="none" stroke-linejoin="round" stroke-linecap="round"/>
<path d="M173.5 291C173.55 298.33 173.53 326.05 173.8 335C174.07 343.95 174.72 341.89 175.14 344.69C175.57 347.49 175.64 349.82 176.33 351.8C177.02 353.77 177.81 355.35 179.29 356.54C180.77 357.72 182.64 358.12 185.21 358.91C187.78 359.7 191.13 360.58 194.68 361.27C198.24 361.97 202.58 362.46 206.52 363.05C210.47 363.64 215.11 364.33 218.37 364.83C221.62 365.32 226.06 365.62 226.06 366.01C226.06 366.41 221.62 366.9 218.37 367.2C215.11 367.49 211.46 367.59 206.52 367.79C201.59 367.99 194.09 368.22 188.76 368.38C183.43 368.54 176.92 368.68 174.55 368.74" stroke="#ff00ff" stroke-width="1.3" fill="none" stroke-linejoin="round" stroke-linecap="round"/>
<path d="M175.14 300.25C175.44 301.14 176.23 303.71 176.92 305.58C177.61 307.46 178.4 309.53 179.29 311.51C180.18 313.48 181.26 315.55 182.25 317.43C183.24 319.3 184.22 321.18 185.21 322.76C186.2 324.34 187.28 325.62 188.17 326.91C189.06 328.19 190.14 329.37 190.54 330.46C190.93 331.55 190.83 332.33 190.54 333.42C190.24 334.51 189.65 335.71 188.76 336.97C187.87 338.24 186.59 339.62 185.21 341C183.83 342.39 181.56 343.88 180.47 345.28C179.39 346.69 179.19 347.95 178.7 349.43C178.2 350.91 177.91 352.59 177.51 354.17C177.12 355.75 176.66 357.43 176.33 358.91C175.99 360.39 175.8 361.87 175.5 363.05C175.2 364.24 174.89 365.12 174.55 366.01C174.22 366.9 173.66 367.99 173.49 368.38" stroke="#0000ff" stroke-width="1.3" fill="none" stroke-linejoin="round" stroke-linecap="round"/>
<path d="M173.96 326.91C174.26 327.6 175.05 329.67 175.74 331.05C176.43 332.43 177.32 333.91 178.1 335.2C178.89 336.48 179.78 337.78 180.47 338.75C181.16 339.72 181.66 339.81 182.25 341C182.84 342.19 183.83 344.47 184.03 345.88C184.22 347.28 183.63 348.24 183.43 349.43C183.24 350.61 182.94 351.9 182.84 352.98C182.74 354.07 183.14 354.96 182.84 355.94C182.55 356.93 181.85 357.92 181.07 358.91C180.28 359.89 179.09 360.78 178.1 361.87C177.12 362.95 175.91 364.33 175.14 365.42C174.37 366.51 173.76 367.89 173.49 368.38" stroke="#00ff00" stroke-width="1.3" fill="none" stroke-linejoin="round" stroke-linecap="round"/>
<path d="M173.61 291.13C174.36 291.57 176.17 292.91 178.1 293.74C180.04 294.57 182.45 295.22 185.21 296.11C187.97 297 191.52 298.08 194.68 299.07C197.84 300.06 201.39 301.14 204.16 302.03C206.92 302.92 209.09 303.41 211.26 304.4C213.43 305.39 215.8 306.87 217.18 307.95C218.56 309.04 219.25 310.03 219.55 310.91C219.85 311.8 219.75 312.39 218.96 313.28C218.17 314.17 216.49 315.26 214.81 316.24C213.14 317.23 211.06 318.22 208.89 319.21C206.72 320.19 204.16 321.18 201.79 322.17C199.42 323.15 197.05 324.14 194.68 325.13C192.31 326.12 189.75 327.1 187.58 328.09C185.41 329.08 183.43 330.06 181.66 331.05C179.88 332.04 178.1 332.93 176.92 334.01C175.74 335.1 174.95 336.97 174.55 337.57" stroke="#ff6600" stroke-width="1.3" fill="none" stroke-linejoin="round" stroke-linecap="round"/>
<path d="M173.6 291C173.66 291.85 173.8 294.07 173.96 296.11C174.12 298.14 174.36 300.85 174.55 303.21C174.75 305.58 174.95 307.76 175.14 310.32C175.34 312.89 175.54 315.85 175.74 318.61C175.93 321.38 176.13 324.14 176.33 326.91C176.53 329.67 176.72 332.85 176.92 335.2C177.12 337.55 177.28 339.42 177.51 341C177.75 342.58 178.14 342.89 178.34 344.69C178.54 346.49 178.64 349.43 178.7 351.8C178.76 354.17 178.89 356.93 178.7 358.91C178.5 360.88 178.1 362.36 177.51 363.64C176.92 364.93 175.82 365.82 175.14 366.61C174.47 367.4 173.76 368.09 173.49 368.38" stroke="#00ffff" stroke-width="1.3" fill="none" stroke-linejoin="round" stroke-linecap="round"/>
<path d="M173.6 291C173.76 291.85 174.2 293.87 174.55 296.11C174.91 298.34 175.34 301.64 175.74 304.4C176.13 307.16 176.62 309.33 176.92 312.69C177.22 316.05 177.35 320.59 177.51 324.54C177.67 328.49 177.73 333.02 177.87 336.38C178.01 339.74 178.26 341.33 178.34 344.69C178.42 348.05 178.58 353.18 178.34 356.54C178.1 359.89 177.71 362.85 176.92 364.83C176.13 366.8 174.16 367.79 173.61 368.38" stroke="#ffb6c1" stroke-width="1.3" fill="none" stroke-linejoin="round" stroke-linecap="round"/>
<path d="M173.3 290.8V369.4" stroke="#ff0000" stroke-width="0.8" opacity="0.0"/>
<path d="M174.3 290.8V369.4" stroke="#e090a0" stroke-width="0.9" opacity="0.6"/>
<path d="M173.3 369.4v2.6M173.3 290.8v-2.6M176.8 369.4v1.3M176.8 290.8v-1.3M180.3 369.4v1.3M180.3 290.8v-1.3M183.8 369.4v1.3M183.8 290.8v-1.3M187.3 369.4v2.6M187.3 290.8v-2.6M190.8 369.4v1.3M190.8 290.8v-1.3M194.3 369.4v1.3M194.3 290.8v-1.3M197.8 369.4v1.3M197.8 290.8v-1.3M201.3 369.4v2.6M201.3 290.8v-2.6M204.8 369.4v1.3M204.8 290.8v-1.3M208.3 369.4v1.3M208.3 290.8v-1.3M211.8 369.4v1.3M211.8 290.8v-1.3M215.3 369.4v2.6M215.3 290.8v-2.6M218.8 369.4v1.3M218.8 290.8v-1.3M222.3 369.4v1.3M222.3 290.8v-1.3M225.8 369.4v1.3M225.8 290.8v-1.3M229.3 369.4v2.6M229.3 290.8v-2.6M232.8 369.4v1.3M232.8 290.8v-1.3M236.3 369.4v1.3M236.3 290.8v-1.3M239.8 369.4v1.3M239.8 290.8v-1.3M243.3 369.4v2.6M243.3 290.8v-2.6M246.8 369.4v1.3M246.8 290.8v-1.3M250.3 369.4v1.3M250.3 290.8v-1.3M253.8 369.4v1.3M253.8 290.8v-1.3M257.3 369.4v2.6M257.3 290.8v-2.6M260.8 369.4v1.3M260.8 290.8v-1.3M264.3 369.4v1.3M264.3 290.8v-1.3M267.8 369.4v1.3M267.8 290.8v-1.3M271.3 369.4v2.6M271.3 290.8v-2.6M271.3 369.4h2.6M271.3 365.03h1.3M271.3 360.67h1.3M271.3 356.3h2.6M271.3 351.93h1.3M271.3 347.57h1.3M271.3 343.2h2.6M271.3 338.83h1.3M271.3 334.47h1.3M271.3 330.1h2.6M271.3 325.73h1.3M271.3 321.37h1.3M271.3 317h2.6M271.3 312.63h1.3M271.3 308.27h1.3M271.3 303.9h2.6M271.3 299.53h1.3M271.3 295.17h1.3M271.3 290.8h2.6" stroke="#222" stroke-width="0.8" fill="none"/>
<rect x="173.3" y="290.8" width="98" height="78.6" fill="none" stroke="#222" stroke-width="1"/>
<text x="173.3" y="383.2" font-size="8" text-anchor="middle">0</text>
<text x="187.3" y="383.2" font-size="8" text-anchor="middle">4</text>
<text x="201.3" y="383.2" font-size="8" text-anchor="middle">8</text>
<text x="215.3" y="383.2" font-size="8" text-anchor="middle">12</text>
<text x="229.3" y="383.2" font-size="8" text-anchor="middle">16</text>
<text x="243.3" y="383.2" font-size="8" text-anchor="middle">20</text>
<text x="257.3" y="383.2" font-size="8" text-anchor="middle">24</text>
<text x="271.3" y="383.2" font-size="8" text-anchor="middle">28</text>
<text x="172.9" y="286.3" font-size="8.1" xml:space="preserve">(j) Low latitude  11.3%</text>
<text x="222.3" y="398" font-size="10.8" text-anchor="middle">Cloud Fraction (%)</text>
<path d="M327.9 290.8V369.4M347.5 290.8V369.4M367.1 290.8V369.4M386.7 290.8V369.4M308.3 356.3H406.3M308.3 343.2H406.3M308.3 330.1H406.3M308.3 317H406.3M308.3 303.9H406.3" stroke="#8a8a8a" stroke-width="0.7" stroke-dasharray="1.6 3.4" fill="none"/>
<path d="M308.5 291C308.48 292.84 308.29 299.4 308.37 302.03C308.44 304.66 308.57 305.39 308.96 306.77C309.36 308.15 309.85 309.24 310.74 310.32C311.62 311.41 312.71 312.39 314.29 313.28C315.87 314.17 318.04 314.86 320.21 315.65C322.38 316.44 324.95 317.23 327.31 318.02C329.68 318.81 332.25 319.5 334.42 320.39C336.59 321.28 338.76 322.36 340.34 323.35C341.92 324.34 342.91 325.23 343.89 326.31C344.88 327.4 345.57 328.58 346.26 329.87C346.95 331.15 347.6 332.53 348.04 334.01C348.47 335.49 348.67 337.56 348.87 338.75C349.06 339.94 349.26 339.95 349.22 341.14C349.18 342.32 348.83 344.3 348.63 345.88C348.43 347.46 348.04 349.23 348.04 350.61C348.04 352 348.14 353.18 348.63 354.17C349.12 355.15 349.62 355.79 351 356.54C352.38 357.29 354.41 358.08 356.92 358.67C359.42 359.26 364.23 359.81 366.04 360.09C367.84 360.37 365.9 360.09 367.76 360.33C369.63 360.56 374.27 361.12 377.24 361.51C380.2 361.91 382.96 362.34 385.52 362.7C388.09 363.05 390.85 363.41 392.63 363.64C394.4 363.88 396.38 363.96 396.18 364.12C395.98 364.28 394.21 364.43 391.44 364.59C388.68 364.75 383.55 364.91 379.6 365.07C375.66 365.22 371.71 365.4 367.76 365.54C363.81 365.68 358.88 365.82 355.92 365.89C352.96 365.97 353.49 365.86 350 366.01C346.51 366.16 340 366.5 335 366.8C330 367.1 324.4 367.4 320 367.8C315.6 368.2 310.5 368.97 308.6 369.2" stroke="#000000" stroke-width="1.5" fill="none" stroke-linejoin="round" stroke-linecap="round"/>
<path d="M308.5 291C308.52 297.5 308.53 319.33 308.6 330C308.67 340.67 308.9 348.47 308.9 355C308.9 361.53 308.65 366.83 308.6 369.2" stroke="#ff0000" stroke-width="1.3" fill="none" stroke-linejoin="round" stroke-linecap="round"/>
<path d="M310.74 354.76C311.92 355.06 314.68 355.94 317.84 356.54C321 357.13 325.74 357.72 329.68 358.31C333.63 358.91 337.58 359.5 341.52 360.09C345.47 360.68 350.01 361.31 353.37 361.87C356.72 362.42 361.65 362.99 361.65 363.41C361.65 363.82 356.72 364.08 353.37 364.35C350.01 364.63 345.47 364.83 341.52 365.07C337.58 365.3 333.63 365.5 329.68 365.78C325.74 366.05 321.2 366.33 317.84 366.72C314.49 367.12 310.93 367.91 309.55 368.15" stroke="#ffff00" stroke-width="1.3" fill="none" stroke-linejoin="round" stroke-linecap="round"/>
<path d="M308.5 291C308.53 298.33 308.52 325.46 308.7 335C308.88 344.54 309.31 345.25 309.55 348.24C309.79 351.24 309.85 351.6 310.14 352.98C310.44 354.36 310.74 355.35 311.33 356.54C311.92 357.72 312.81 359.1 313.7 360.09C314.58 361.08 315.87 361.77 316.66 362.46C317.45 363.15 318.63 363.74 318.43 364.24C318.24 364.73 316.66 365.03 315.47 365.42C314.29 365.82 312.41 366.21 311.33 366.61C310.24 367 309.36 367.59 308.96 367.79" stroke="#ff00ff" stroke-width="1.3" fill="none" stroke-linejoin="round" stroke-linecap="round"/>
<path d="M308.96 311.51C309.16 312.1 309.55 313.78 310.14 315.06C310.74 316.34 311.53 317.82 312.51 319.21C313.5 320.59 314.78 321.97 316.07 323.35C317.35 324.73 318.73 326.12 320.21 327.5C321.69 328.88 323.37 330.36 324.95 331.64C326.52 332.93 328.3 334.21 329.68 335.2C331.06 336.18 332.54 336.48 333.24 337.57C333.93 338.66 334.42 340.34 333.83 341.73C333.24 343.11 331.36 344.49 329.68 345.88C328.01 347.26 325.74 348.74 323.76 350.02C321.79 351.3 319.52 352.39 317.84 353.58C316.16 354.76 314.78 355.94 313.7 357.13C312.61 358.31 311.92 359.6 311.33 360.68C310.74 361.77 310.6 362.46 310.14 363.64C309.69 364.83 308.86 367.1 308.61 367.79" stroke="#0000ff" stroke-width="1.3" fill="none" stroke-linejoin="round" stroke-linecap="round"/>
<path d="M309.55 335.21C309.75 336 310.24 338.37 310.74 339.95C311.23 341.53 311.82 343.11 312.51 344.69C313.2 346.27 314.09 348.05 314.88 349.43C315.67 350.81 316.95 351.9 317.25 352.98C317.55 354.07 317.15 354.96 316.66 355.94C316.16 356.93 315.08 357.92 314.29 358.91C313.5 359.89 312.61 360.88 311.92 361.87C311.23 362.85 310.72 363.78 310.14 364.83C309.57 365.87 308.76 367.59 308.49 368.15" stroke="#00ff00" stroke-width="1.3" fill="none" stroke-linejoin="round" stroke-linecap="round"/>
<path d="M308.5 291C308.48 292.84 308.29 299.4 308.37 302.03C308.44 304.66 308.57 305.39 308.96 306.77C309.36 308.15 309.85 309.24 310.74 310.32C311.62 311.41 312.91 312.39 314.29 313.28C315.67 314.17 317.45 314.86 319.03 315.65C320.6 316.44 322.48 317.23 323.76 318.02C325.04 318.81 326.03 319.5 326.72 320.39C327.41 321.28 327.81 322.36 327.91 323.35C328.01 324.34 327.81 325.33 327.31 326.31C326.82 327.3 325.93 328.29 324.95 329.27C323.96 330.26 322.68 331.25 321.39 332.24C320.11 333.22 318.53 334.31 317.25 335.2C315.97 336.09 314.78 336.88 313.7 337.57C312.61 338.26 311.47 338.6 310.74 339.34C310 340.08 309.54 341.56 309.3 342" stroke="#ff6600" stroke-width="1.3" fill="none" stroke-linejoin="round" stroke-linecap="round"/>
<path d="M308.6 300C308.66 302.51 308.7 311.56 308.96 315.06C309.22 318.56 309.65 319.01 310.14 320.98C310.64 322.96 311.23 324.93 311.92 326.91C312.61 328.88 313.5 330.85 314.29 332.83C315.08 334.8 316.07 337.37 316.66 338.75C317.25 340.14 317.05 339.75 317.84 341.14C318.63 342.52 320.31 345.18 321.39 347.06C322.48 348.94 323.72 350.61 324.35 352.39C324.99 354.17 325.08 356.14 325.18 357.72C325.28 359.3 325.38 360.78 324.95 361.87C324.51 362.95 324.16 363.64 322.58 364.24C321 364.83 317.45 365.12 315.47 365.42C313.5 365.72 311.88 365.62 310.74 366.01C309.59 366.41 308.96 367.49 308.61 367.79" stroke="#00ffff" stroke-width="1.3" fill="none" stroke-linejoin="round" stroke-linecap="round"/>
<path d="M308.3 290.8V369.4" stroke="#ff0000" stroke-width="0.8" opacity="0.0"/>
<path d="M309.3 290.8V369.4" stroke="#e090a0" stroke-width="0.9" opacity="0.6"/>
<path d="M308.3 369.4v2.6M308.3 290.8v-2.6M312.22 369.4v1.3M312.22 290.8v-1.3M316.14 369.4v1.3M316.14 290.8v-1.3M320.06 369.4v1.3M320.06 290.8v-1.3M323.98 369.4v1.3M323.98 290.8v-1.3M327.9 369.4v2.6M327.9 290.8v-2.6M331.82 369.4v1.3M331.82 290.8v-1.3M335.74 369.4v1.3M335.74 290.8v-1.3M339.66 369.4v1.3M339.66 290.8v-1.3M343.58 369.4v1.3M343.58 290.8v-1.3M347.5 369.4v2.6M347.5 290.8v-2.6M351.42 369.4v1.3M351.42 290.8v-1.3M355.34 369.4v1.3M355.34 290.8v-1.3M359.26 369.4v1.3M359.26 290.8v-1.3M363.18 369.4v1.3M363.18 290.8v-1.3M367.1 369.4v2.6M367.1 290.8v-2.6M371.02 369.4v1.3M371.02 290.8v-1.3M374.94 369.4v1.3M374.94 290.8v-1.3M378.86 369.4v1.3M378.86 290.8v-1.3M382.78 369.4v1.3M382.78 290.8v-1.3M386.7 369.4v2.6M386.7 290.8v-2.6M390.62 369.4v1.3M390.62 290.8v-1.3M394.54 369.4v1.3M394.54 290.8v-1.3M398.46 369.4v1.3M398.46 290.8v-1.3M402.38 369.4v1.3M402.38 290.8v-1.3M406.3 369.4v2.6M406.3 290.8v-2.6M406.3 369.4h2.6M406.3 365.03h1.3M406.3 360.67h1.3M406.3 356.3h2.6M406.3 351.93h1.3M406.3 347.57h1.3M406.3 343.2h2.6M406.3 338.83h1.3M406.3 334.47h1.3M406.3 330.1h2.6M406.3 325.73h1.3M406.3 321.37h1.3M406.3 317h2.6M406.3 312.63h1.3M406.3 308.27h1.3M406.3 303.9h2.6M406.3 299.53h1.3M406.3 295.17h1.3M406.3 290.8h2.6" stroke="#222" stroke-width="0.8" fill="none"/>
<rect x="308.3" y="290.8" width="98" height="78.6" fill="none" stroke="#222" stroke-width="1"/>
<text x="308.3" y="383.2" font-size="8" text-anchor="middle">0</text>
<text x="327.9" y="383.2" font-size="8" text-anchor="middle">10</text>
<text x="347.5" y="383.2" font-size="8" text-anchor="middle">20</text>
<text x="367.1" y="383.2" font-size="8" text-anchor="middle">30</text>
<text x="386.7" y="383.2" font-size="8" text-anchor="middle">40</text>
<text x="406.3" y="383.2" font-size="8" text-anchor="middle">50</text>
<text x="307.9" y="286.3" font-size="8.1" xml:space="preserve">(k) Middle latitude  18.3%</text>
<text x="357.3" y="398" font-size="10.8" text-anchor="middle">Cloud Fraction (%)</text>
<path d="M462.8 290.8V369.4M482.4 290.8V369.4M502 290.8V369.4M521.6 290.8V369.4M443.2 356.3H541.2M443.2 343.2H541.2M443.2 330.1H541.2M443.2 317H541.2M443.2 303.9H541.2" stroke="#8a8a8a" stroke-width="0.7" stroke-dasharray="1.6 3.4" fill="none"/>
<path d="M443.25 328.7C445.44 328.72 452.23 328.72 456.39 328.82C460.56 328.92 465.27 328.72 468.24 329.29C471.2 329.86 471.98 331.17 474.16 332.25C476.33 333.34 479.09 334.62 481.26 335.81C483.43 336.99 485.97 338.57 487.18 339.36C488.4 340.15 487.83 339.85 488.55 340.55C489.27 341.24 490.53 342.42 491.51 343.51C492.5 344.59 493.39 345.78 494.47 347.06C495.56 348.34 496.84 349.92 498.03 351.21C499.21 352.49 500.3 353.67 501.58 354.76C502.86 355.85 504.14 356.93 505.72 357.72C507.3 358.51 508.78 358.95 511.05 359.5C513.32 360.05 516.58 360.54 519.34 361.04C522.1 361.53 525.26 362.03 527.63 362.46C530 362.89 532.17 363.35 533.55 363.64C534.93 363.94 536.12 364.06 535.92 364.24C535.72 364.41 534.93 364.57 532.37 364.71C529.8 364.85 524.47 364.95 520.52 365.07C516.58 365.18 512.63 365.32 508.68 365.42C504.74 365.52 500.79 365.56 496.84 365.66C492.89 365.76 489.47 365.81 485 366.01C480.53 366.22 475 366.57 470 366.9C465 367.23 459.42 367.62 455 368C450.58 368.38 445.42 369 443.5 369.2" stroke="#000000" stroke-width="1.5" fill="none" stroke-linejoin="round" stroke-linecap="round"/>
<path d="M443.25 328.11C443.27 330.87 443.31 338.37 443.37 344.69C443.43 351.01 443.61 361.97 443.61 366.01C443.61 370.06 443.41 368.48 443.37 368.97" stroke="#ff0000" stroke-width="1.3" fill="none" stroke-linejoin="round" stroke-linecap="round"/>
<path d="M444.55 352.98C445.14 353.38 446.13 354.56 448.1 355.35C450.08 356.14 453.24 357.03 456.39 357.72C459.55 358.41 463.3 358.91 467.05 359.5C470.8 360.09 475.14 360.68 478.89 361.27C482.64 361.87 486.98 362.56 489.55 363.05C492.12 363.55 494.88 363.84 494.29 364.24C493.69 364.63 489.35 365.03 486 365.42C482.64 365.82 478.1 366.21 474.16 366.61C470.21 367 465.67 367.45 462.31 367.79C458.96 368.13 456.59 368.42 454.03 368.62C451.46 368.82 448.68 368.9 446.92 368.97C445.16 369.05 444.06 369.07 443.49 369.09" stroke="#ffff00" stroke-width="1.3" fill="none" stroke-linejoin="round" stroke-linecap="round"/>
<path d="M443.61 350.61C443.66 351.6 443.8 354.96 443.96 356.54C444.12 358.12 444.26 359 444.55 360.09C444.85 361.18 445.34 362.16 445.74 363.05C446.13 363.94 447.02 364.73 446.92 365.42C446.82 366.11 445.7 366.7 445.14 367.2C444.59 367.69 443.86 368.18 443.61 368.38" stroke="#ff00ff" stroke-width="1.3" fill="none" stroke-linejoin="round" stroke-linecap="round"/>
<path d="M443.37 328.7C444.16 328.76 446.53 328.76 448.1 329.05C449.68 329.35 451.07 329.65 452.84 330.48C454.62 331.31 456.59 332.85 458.76 334.03C460.93 335.21 463.7 336.4 465.87 337.58C468.04 338.77 470.5 339.95 471.79 341.14C473.07 342.32 473.56 343.61 473.56 344.69C473.56 345.78 472.87 346.67 471.79 347.65C470.7 348.64 468.83 349.53 467.05 350.61C465.27 351.7 463.1 353.08 461.13 354.17C459.16 355.25 456.99 356.14 455.21 357.13C453.43 358.12 451.76 359.1 450.47 360.09C449.19 361.08 448.4 362.06 447.51 363.05C446.62 364.04 445.82 365.12 445.14 366.01C444.47 366.9 443.76 367.99 443.49 368.38" stroke="#0000ff" stroke-width="1.3" fill="none" stroke-linejoin="round" stroke-linecap="round"/>
<path d="M443.84 341.73C443.96 342.03 444.14 342.62 444.55 343.51C444.97 344.39 445.54 345.88 446.33 347.06C447.12 348.24 448.2 349.53 449.29 350.61C450.37 351.7 451.95 352.69 452.84 353.58C453.73 354.46 454.52 355.15 454.62 355.94C454.72 356.73 454.12 357.52 453.43 358.31C452.74 359.1 451.46 359.89 450.47 360.68C449.49 361.47 448.4 362.16 447.51 363.05C446.62 363.94 445.82 365.16 445.14 366.01C444.47 366.86 443.76 367.79 443.49 368.15" stroke="#00ff00" stroke-width="1.3" fill="none" stroke-linejoin="round" stroke-linecap="round"/>
<path d="M450.47 328.82C451.36 329 454.81 329.21 455.8 329.88C456.79 330.56 456.59 331.86 456.39 332.85C456.2 333.83 455.6 334.82 454.62 335.81C453.63 336.79 451.85 337.78 450.47 338.77C449.09 339.76 447.35 340.94 446.33 341.73C445.3 342.52 444.65 343.21 444.32 343.51" stroke="#ff6600" stroke-width="1.3" fill="none" stroke-linejoin="round" stroke-linecap="round"/>
<path d="M443.37 328.7C443.96 328.76 445.84 328.56 446.92 329.05C448.01 329.55 448.7 330.44 449.88 331.66C451.07 332.89 452.55 334.62 454.03 336.4C455.51 338.18 456.99 340.35 458.76 342.32C460.54 344.3 462.91 346.57 464.68 348.24C466.46 349.92 468.33 351.01 469.42 352.39C470.5 353.77 471 355.06 471.2 356.54C471.39 358.02 471.1 359.99 470.6 361.27C470.11 362.56 470.21 363.55 468.24 364.24C466.26 364.93 462.12 365.12 458.76 365.42C455.41 365.72 450.57 365.62 448.1 366.01C445.64 366.41 444.73 367.36 443.96 367.79C443.19 368.22 443.57 368.48 443.49 368.62" stroke="#00ffff" stroke-width="1.3" fill="none" stroke-linejoin="round" stroke-linecap="round"/>
<path d="M443.2 290.8V369.4" stroke="#ff0000" stroke-width="0.8" opacity="0.0"/>
<path d="M444.2 290.8V369.4" stroke="#e090a0" stroke-width="0.9" opacity="0.6"/>
<path d="M443.2 369.4v2.6M443.2 290.8v-2.6M447.12 369.4v1.3M447.12 290.8v-1.3M451.04 369.4v1.3M451.04 290.8v-1.3M454.96 369.4v1.3M454.96 290.8v-1.3M458.88 369.4v1.3M458.88 290.8v-1.3M462.8 369.4v2.6M462.8 290.8v-2.6M466.72 369.4v1.3M466.72 290.8v-1.3M470.64 369.4v1.3M470.64 290.8v-1.3M474.56 369.4v1.3M474.56 290.8v-1.3M478.48 369.4v1.3M478.48 290.8v-1.3M482.4 369.4v2.6M482.4 290.8v-2.6M486.32 369.4v1.3M486.32 290.8v-1.3M490.24 369.4v1.3M490.24 290.8v-1.3M494.16 369.4v1.3M494.16 290.8v-1.3M498.08 369.4v1.3M498.08 290.8v-1.3M502 369.4v2.6M502 290.8v-2.6M505.92 369.4v1.3M505.92 290.8v-1.3M509.84 369.4v1.3M509.84 290.8v-1.3M513.76 369.4v1.3M513.76 290.8v-1.3M517.68 369.4v1.3M517.68 290.8v-1.3M521.6 369.4v2.6M521.6 290.8v-2.6M525.52 369.4v1.3M525.52 290.8v-1.3M529.44 369.4v1.3M529.44 290.8v-1.3M533.36 369.4v1.3M533.36 290.8v-1.3M537.28 369.4v1.3M537.28 290.8v-1.3M541.2 369.4v2.6M541.2 290.8v-2.6M541.2 369.4h2.6M541.2 365.03h1.3M541.2 360.67h1.3M541.2 356.3h2.6M541.2 351.93h1.3M541.2 347.57h1.3M541.2 343.2h2.6M541.2 338.83h1.3M541.2 334.47h1.3M541.2 330.1h2.6M541.2 325.73h1.3M541.2 321.37h1.3M541.2 317h2.6M541.2 312.63h1.3M541.2 308.27h1.3M541.2 303.9h2.6M541.2 299.53h1.3M541.2 295.17h1.3M541.2 290.8h2.6" stroke="#222" stroke-width="0.8" fill="none"/>
<rect x="443.2" y="290.8" width="98" height="78.6" fill="none" stroke="#222" stroke-width="1"/>
<text x="443.2" y="383.2" font-size="8" text-anchor="middle">0</text>
<text x="462.8" y="383.2" font-size="8" text-anchor="middle">10</text>
<text x="482.4" y="383.2" font-size="8" text-anchor="middle">20</text>
<text x="502" y="383.2" font-size="8" text-anchor="middle">30</text>
<text x="521.6" y="383.2" font-size="8" text-anchor="middle">40</text>
<text x="541.2" y="383.2" font-size="8" text-anchor="middle">50</text>
<text x="442.8" y="286.3" font-size="8.1" xml:space="preserve">(l) High latitude  26.4%</text>
<text x="492.2" y="398" font-size="10.8" text-anchor="middle">Cloud Fraction (%)</text>
<rect x="115.2" y="413.2" width="35.6" height="11.0" fill="#000000"/>
<rect x="150.8" y="413.2" width="35.6" height="11.0" fill="#ff0000"/>
<rect x="186.4" y="413.2" width="35.6" height="11.0" fill="#ffff00"/>
<rect x="222" y="413.2" width="35.6" height="11.0" fill="#ff00ff"/>
<rect x="257.6" y="413.2" width="35.6" height="11.0" fill="#0000ff"/>
<rect x="293.2" y="413.2" width="35.6" height="11.0" fill="#00ff00"/>
<rect x="328.8" y="413.2" width="35.6" height="11.0" fill="#ff6600"/>
<rect x="364.4" y="413.2" width="35.6" height="11.0" fill="#00ffff"/>
<rect x="400" y="413.2" width="35.6" height="11.0" fill="#ffb6c1"/>
<rect x="115.2" y="413.2" width="320.4" height="11.0" fill="none" stroke="#555" stroke-width="0.6"/>
<text x="133" y="434.5" font-size="9" text-anchor="middle">All</text>
<text x="168.6" y="434.5" font-size="9" text-anchor="middle">St</text>
<text x="204.2" y="434.5" font-size="9" text-anchor="middle">Sc</text>
<text x="239.8" y="434.5" font-size="9" text-anchor="middle">Cu</text>
<text x="275.4" y="434.5" font-size="9" text-anchor="middle">As</text>
<text x="311" y="434.5" font-size="9" text-anchor="middle">Ac</text>
<text x="346.6" y="434.5" font-size="9" text-anchor="middle">Ci</text>
<text x="382.2" y="434.5" font-size="9" text-anchor="middle">Ns</text>
<text x="417.8" y="434.5" font-size="9" text-anchor="middle">Dc</text>
</svg></body></html>
